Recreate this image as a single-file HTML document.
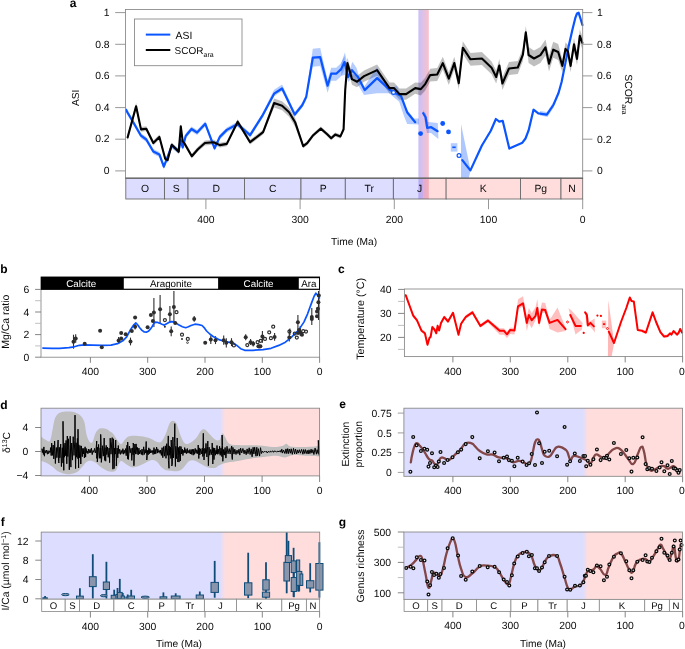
<!DOCTYPE html>
<html lang="en"><head><meta charset="utf-8"><title>Figure</title>
<style>html,body{margin:0;padding:0;background:#fff}svg{display:block}text{font-family:'Liberation Sans', Arial, Helvetica, sans-serif;text-rendering:geometricPrecision}</style>
</head><body>
<svg width="685" height="649" viewBox="0 0 685 649">
<defs>
<linearGradient id="bandg" x1="0" x2="1" y1="0" y2="0"><stop offset="0" stop-color="#7864f0" stop-opacity="0.4"/><stop offset="1" stop-color="#f06482" stop-opacity="0.4"/></linearGradient>
<linearGradient id="bgL" x1="0" x2="1" y1="0" y2="0"><stop offset="0" stop-color="#ddddff"/><stop offset="1" stop-color="#ffdddd"/></linearGradient>
</defs>
<rect x="0" y="0" width="685" height="649" fill="#ffffff"/>
<g id="panel-a">
<text x="69.8" y="6.7" font-size="12" text-anchor="start" font-weight="bold" fill="#000" >a</text>
<rect x="418.4" y="9.5" width="10.4" height="168.7" fill="url(#bandg)" stroke="none" stroke-width="0.85" />
<polygon points="127.6,134 128.2,131.7 136.1,102.8 141,127 146.3,126.3 153.3,140.6 159.4,134.5 165.2,156.4 167.6,157.8 171.7,142.4 178.7,149.4 180.8,124 182.7,138.9 184.8,141.5 191.8,153.8 197.9,146.8 204.9,140.6 213.7,139.8 219.8,142.7 226.8,141.5 237.7,119.3 250.1,139.8 263.1,129.8 274.1,98.6 282.1,101.3 289.1,107.7 295.1,117.7 303.2,144.2 307.2,141.2 313.2,133.2 320.8,126.6 327.2,132.2 331.2,136.2 335.2,132.6 340.4,134.4 343.6,127.2 345.2,88.1 347.4,57.5 352,73.5 357,76.1 364.1,70.5 377.1,64.5 389.5,82.5 394.1,82.5 399.5,88.5 406.1,88.5 415.2,82.5 420.8,82.7 425.2,77.7 430.2,68.7 437.2,68.1 442.8,56.7 448.8,72.2 454.3,56.7 458.8,76.8 462.8,41.3 470.5,52.9 481.9,52.1 491.6,61.4 496.2,70.6 499.3,59.1 502.4,77.1 509,62.1 517.8,61.1 522.9,48.3 525.8,25.9 528.6,47 534,50.5 540.4,47.1 545.5,39.4 549,55.6 553.2,41.7 558.2,44 562.4,59.5 565.5,42.5 567.8,44.8 570.6,59.5 574,37.9 577,52.5 579.8,29.4 582.4,36.4 582.4,49.2 579.8,42.2 577,65.3 574,50.7 570.6,72.3 567.8,57.6 565.5,55.3 562.4,72.3 558.2,60 553.2,57.7 549,71.6 545.5,55.4 540.4,63.1 534,66.5 528.6,63 525.8,38.7 522.9,61.1 517.8,73.9 509,74.9 502.4,89.9 499.3,71.9 496.2,83.4 491.6,74.2 481.9,64.9 470.5,65.7 462.8,54.1 458.8,89.6 454.3,69.5 448.8,85 442.8,69.5 437.2,80.9 430.2,81.5 425.2,90.5 420.8,95.5 415.2,93.7 406.1,99.7 399.5,99.7 394.1,93.7 389.5,93.7 377.1,75.7 364.1,81.7 357,87.3 352,84.7 347.4,68.7 345.2,92.1 343.6,131.2 340.4,138.4 335.2,136.6 331.2,140.2 327.2,136.2 320.8,130.6 313.2,137.2 307.2,145.2 303.2,148.2 295.1,126.7 289.1,116.7 282.1,110.3 274.1,107.6 263.1,134.6 250.1,144.6 237.7,124.1 226.8,146.3 219.8,147.5 213.7,144.6 204.9,145.4 197.9,151.6 191.8,158.6 184.8,146.3 182.7,143.7 180.8,128.8 178.7,154.2 171.7,147.2 167.6,162.6 165.2,161.2 159.4,139.3 153.3,145.4 146.3,131.1 141,131.8 136.1,109.8 128.2,138.7 127.6,141" fill="#000000" fill-opacity="0.25"/>
<polygon points="126.2,107.5 127.5,110 133.1,119.5 141,133.2 146.3,137 153.3,149 159.4,151.9 163.8,164.2 166.9,156.3 171.7,143.2 178.7,148.4 180.6,137.5 182.7,144.9 185.7,133.5 191.5,126.5 197.1,130 205.3,121.3 214.6,145.8 219.8,134.4 226.8,127.4 237.4,121.7 250.1,132.7 262.1,113.7 274.1,89.7 282.1,84.5 294.7,112.1 302.2,102.7 306.2,94.6 312.8,48.7 320.2,48.1 327.6,79.7 331.2,67.7 336.2,67.7 341.2,63.1 344.6,56.1 344.6,69.1 341.2,76.1 336.2,80.7 331.2,80.7 327.6,92.7 320.2,66.1 312.8,66.7 306.2,99.6 302.2,107.7 294.7,117.1 282.1,91 274.1,96.2 262.1,118.7 250.1,137.7 237.4,126.7 226.8,132.4 219.8,139.4 214.6,150.8 205.3,126.3 197.1,135 191.5,131.5 185.7,138.5 182.7,149.9 180.6,142.5 178.7,153.4 171.7,148.2 166.9,161.3 163.8,169.2 159.4,156.9 153.3,154 146.3,142 141,138.2 133.1,124.5 127.5,115 126.2,112.5" fill="#0a55ff" fill-opacity="0.3"/>
<polygon points="341.2,63 344.9,52.5 347.4,64.8 349.2,72.2 352.3,61.7 356.6,67.9 359.7,78.4 364,87 377,67.3 389.3,89.5 396.7,85.8 401.7,96.9 406.6,109.2 414,118.4 418.9,118.4 418.9,124.6 407.2,124 404.1,116.6 399.2,101.8 389.3,93.2 377,93.2 364,95 358.5,85.8 352.3,76.5 348.6,82.1 344.9,74.7 341.2,76" fill="#0a55ff" fill-opacity="0.3"/>
<polygon points="423,110 426,114 428,122 437.8,123 438.4,139 431,133 427,133 424.5,120" fill="#0a55ff" fill-opacity="0.3"/>
<rect x="450.8" y="143.2" width="6.6" height="8.4" fill="#0a55ff" stroke="none" stroke-width="0.85" fill-opacity="0.3"/>
<polygon points="461,124 470.6,170.4 468.6,178.2 461,178.2" fill="#0a55ff" fill-opacity="0.33"/>
<polygon points="540,111 547,112 553.5,102 554,107 547.5,117 540,115.5" fill="#0a55ff" fill-opacity="0.3"/>
<polyline points="126.2,110 127.5,112.5 133.1,122 141,135.7 146.3,139.5 153.3,151.5 159.4,154.4 163.8,166.7 166.9,158.8 171.7,145.7 178.7,150.9 180.6,140 182.7,147.4 185.7,136 191.5,129 197.1,132.5 205.3,123.8 214.6,148.3 219.8,136.9 226.8,129.9 237.4,124.2 250.1,135.2 262.1,116.2 274.1,93.7 282.1,88.5 294.7,114.6 302.2,105.2 306.2,97.1 312.8,57.7 320.2,57.1 327.6,85.7 331.2,73.7 336.2,73.7 341.2,69.1 344.6,62.1 348,77.1 352,70.1 358,77.1 364.7,90.1 377.1,78.1 390.1,90.1 401.1,96.1 407.1,112.2 415.2,122.2" fill="none" stroke="#0a55ff" stroke-width="2.2" stroke-linejoin="round" stroke-linecap="round" />
<polyline points="423.2,113.2 425.6,117.2 427.2,127.8 431.2,127.2 437.6,131.2" fill="none" stroke="#0a55ff" stroke-width="2.2" stroke-linejoin="round" stroke-linecap="round" />
<polyline points="462.3,160.1 470.4,170.4 481.9,145.5 490.8,130.8 495.9,119 499.3,121.6 502.7,120.8 509.3,148.6 522.4,142.7 525.5,138.5 528.6,130.4 533.5,109.7 538.3,113.4 546.8,114.6 553.4,105 558.6,92.8 561.6,82 564.7,66.6 568.6,46.6 572.4,29.7 575.5,17.3 577,13.5 578.6,12.7 580.1,17.3 582.4,25" fill="none" stroke="#0a55ff" stroke-width="2.2" stroke-linejoin="round" stroke-linecap="round" />
<line x1="452.3" y1="147.3" x2="455.7" y2="147.3" stroke="#0a55ff" stroke-width="1.6"/>
<circle cx="420.6" cy="133.6" r="2.4" fill="#0a55ff" stroke="none" stroke-width="1"/>
<circle cx="442.7" cy="123.5" r="2.4" fill="#0a55ff" stroke="none" stroke-width="1"/>
<circle cx="448.5" cy="131.9" r="2.4" fill="#0a55ff" stroke="none" stroke-width="1"/>
<circle cx="393.5" cy="92.5" r="1.9" fill="#ffffff" stroke="#0a55ff" stroke-width="1.2"/>
<circle cx="459" cy="155.5" r="1.9" fill="#ffffff" stroke="#0a55ff" stroke-width="1.2"/>
<polyline points="127.6,137.5 128.2,135.2 136.1,106.3 141,129.4 146.3,128.7 153.3,143 159.4,136.9 165.2,158.8 167.6,160.2 171.7,144.8 178.7,151.8 180.8,126.4 182.7,141.3 184.8,143.9 191.8,156.2 197.9,149.2 204.9,143 213.7,142.2 219.8,145.1 226.8,143.9 237.7,121.7 250.1,142.2 263.1,132.2 274.1,103.1 282.1,105.8 289.1,112.2 295.1,122.2 303.2,146.2 307.2,143.2 313.2,135.2 320.8,128.6 327.2,134.2 331.2,138.2 335.2,134.6 340.4,136.4 343.6,129.2 345.2,90.1 347.4,63.1 352,79.1 357,81.7 364.1,76.1 377.1,70.1 389.5,88.1 394.1,88.1 399.5,94.1 406.1,94.1 415.2,88.1 420.8,89.1 425.2,84.1 430.2,75.1 437.2,74.5 442.8,63.1 448.8,78.6 454.3,63.1 458.8,83.2 462.8,47.7 470.5,59.3 481.9,58.5 491.6,67.8 496.2,77 499.3,65.5 502.4,83.5 509,68.5 517.8,67.5 522.9,54.7 525.8,32.3 528.6,55 534,58.5 540.4,55.1 545.5,47.4 549,63.6 553.2,49.7 558.2,52 562.4,65.9 565.5,48.9 567.8,51.2 570.6,65.9 574,44.3 577,58.9 579.8,35.8 582.4,42.8" fill="none" stroke="#000000" stroke-width="2.1" stroke-linejoin="round" stroke-linecap="round" />
<rect x="125.5" y="9.5" width="457.2" height="168.7" fill="none" stroke="#858585" stroke-width="0.85" />
<line x1="115.2" y1="170.9" x2="125.5" y2="170.9" stroke="#858585" stroke-width="0.85"/>
<line x1="582.7" y1="170.9" x2="592.4" y2="170.9" stroke="#858585" stroke-width="0.85"/>
<text x="109.6" y="174.1" font-size="10.4" text-anchor="end" font-weight="normal" fill="#0a0a0a" >0</text>
<text x="597" y="174.4" font-size="10.4" text-anchor="start" font-weight="normal" fill="#0a0a0a" >0</text>
<line x1="115.2" y1="139.2" x2="125.5" y2="139.2" stroke="#858585" stroke-width="0.85"/>
<line x1="582.7" y1="139.2" x2="592.4" y2="139.2" stroke="#858585" stroke-width="0.85"/>
<text x="109.6" y="142.4" font-size="10.4" text-anchor="end" font-weight="normal" fill="#0a0a0a" >0.2</text>
<text x="597" y="142.7" font-size="10.4" text-anchor="start" font-weight="normal" fill="#0a0a0a" >0.2</text>
<line x1="115.2" y1="107.6" x2="125.5" y2="107.6" stroke="#858585" stroke-width="0.85"/>
<line x1="582.7" y1="107.6" x2="592.4" y2="107.6" stroke="#858585" stroke-width="0.85"/>
<text x="109.6" y="110.8" font-size="10.4" text-anchor="end" font-weight="normal" fill="#0a0a0a" >0.4</text>
<text x="597" y="111.1" font-size="10.4" text-anchor="start" font-weight="normal" fill="#0a0a0a" >0.4</text>
<line x1="115.2" y1="75.9" x2="125.5" y2="75.9" stroke="#858585" stroke-width="0.85"/>
<line x1="582.7" y1="75.9" x2="592.4" y2="75.9" stroke="#858585" stroke-width="0.85"/>
<text x="109.6" y="79.1" font-size="10.4" text-anchor="end" font-weight="normal" fill="#0a0a0a" >0.6</text>
<text x="597" y="79.4" font-size="10.4" text-anchor="start" font-weight="normal" fill="#0a0a0a" >0.6</text>
<line x1="115.2" y1="44.3" x2="125.5" y2="44.3" stroke="#858585" stroke-width="0.85"/>
<line x1="582.7" y1="44.3" x2="592.4" y2="44.3" stroke="#858585" stroke-width="0.85"/>
<text x="109.6" y="47.5" font-size="10.4" text-anchor="end" font-weight="normal" fill="#0a0a0a" >0.8</text>
<text x="597" y="47.8" font-size="10.4" text-anchor="start" font-weight="normal" fill="#0a0a0a" >0.8</text>
<line x1="115.2" y1="12.6" x2="125.5" y2="12.6" stroke="#858585" stroke-width="0.85"/>
<line x1="582.7" y1="12.6" x2="592.4" y2="12.6" stroke="#858585" stroke-width="0.85"/>
<text x="109.6" y="15.8" font-size="10.4" text-anchor="end" font-weight="normal" fill="#0a0a0a" >1</text>
<text x="597" y="16.1" font-size="10.4" text-anchor="start" font-weight="normal" fill="#0a0a0a" >1</text>
<text x="79.1" y="97.8" font-size="10.2" text-anchor="middle" font-weight="normal" fill="#0a0a0a" transform="rotate(-90 79.1 97.8)" >ASI</text>
<text x="625.3" y="74.2" font-size="10.4" text-anchor="start" fill="#0a0a0a" transform="rotate(90 625.3 74.2)">SCOR<tspan font-size="7.2" dy="2.9">ara</tspan></text>
<rect x="134.5" y="19" width="107.5" height="46.7" fill="#ffffff" stroke="#858585" stroke-width="0.85" />
<line x1="145.8" y1="34.6" x2="170.3" y2="34.6" stroke="#0a55ff" stroke-width="2"/>
<line x1="145.8" y1="50" x2="170.3" y2="50" stroke="#000000" stroke-width="2"/>
<text x="175.6" y="39.2" font-size="10.4" text-anchor="start" font-weight="normal" fill="#0a0a0a" >ASI</text>
<text x="174.6" y="53.5" font-size="10" text-anchor="start" fill="#0a0a0a">SCOR<tspan font-size="7" dy="3.2">ara</tspan></text>
<rect x="125.8" y="178.2" width="38.6" height="20.8" fill="#ddddff" stroke="#666666" stroke-width="0.85" />
<text x="145.1" y="192.3" font-size="10.4" text-anchor="middle" font-weight="normal" fill="#0a0a0a" >O</text>
<rect x="164.5" y="178.2" width="23.6" height="20.8" fill="#ddddff" stroke="#666666" stroke-width="0.85" />
<text x="176.2" y="192.3" font-size="10.4" text-anchor="middle" font-weight="normal" fill="#0a0a0a" >S</text>
<rect x="188" y="178.2" width="56.5" height="20.8" fill="#ddddff" stroke="#666666" stroke-width="0.85" />
<text x="216.3" y="192.3" font-size="10.4" text-anchor="middle" font-weight="normal" fill="#0a0a0a" >D</text>
<rect x="244.5" y="178.2" width="56.5" height="20.8" fill="#ddddff" stroke="#666666" stroke-width="0.85" />
<text x="272.8" y="192.3" font-size="10.4" text-anchor="middle" font-weight="normal" fill="#0a0a0a" >C</text>
<rect x="301" y="178.2" width="44.3" height="20.8" fill="#ddddff" stroke="#666666" stroke-width="0.85" />
<text x="323.2" y="192.3" font-size="10.4" text-anchor="middle" font-weight="normal" fill="#0a0a0a" >P</text>
<rect x="345.3" y="178.2" width="48" height="20.8" fill="#ddddff" stroke="#666666" stroke-width="0.85" />
<text x="369.3" y="192.3" font-size="10.4" text-anchor="middle" font-weight="normal" fill="#0a0a0a" >Tr</text>
<rect x="393.4" y="178.2" width="30.2" height="20.8" fill="#ddddff" stroke="none" stroke-width="0.85" />
<rect x="423.6" y="178.2" width="22.5" height="20.8" fill="#ffdddd" stroke="none" stroke-width="0.85" />
<rect x="418.4" y="178.2" width="10.4" height="20.8" fill="url(#bandg)" stroke="none" stroke-width="0.85" />
<rect x="393.4" y="178.2" width="52.8" height="20.8" fill="none" stroke="#666666" stroke-width="0.85" />
<text x="419.7" y="192.3" font-size="10.4" text-anchor="middle" font-weight="normal" fill="#0a0a0a" >J</text>
<rect x="446.1" y="178.2" width="74.4" height="20.8" fill="#ffdddd" stroke="#666666" stroke-width="0.85" />
<text x="483.3" y="192.3" font-size="10.4" text-anchor="middle" font-weight="normal" fill="#0a0a0a" >K</text>
<rect x="520.5" y="178.2" width="40.5" height="20.8" fill="#ffdddd" stroke="#666666" stroke-width="0.85" />
<text x="540.8" y="192.3" font-size="10.4" text-anchor="middle" font-weight="normal" fill="#0a0a0a" >Pg</text>
<rect x="561" y="178.2" width="21.7" height="20.8" fill="#ffdddd" stroke="#666666" stroke-width="0.85" />
<text x="571.9" y="192.3" font-size="10.4" text-anchor="middle" font-weight="normal" fill="#0a0a0a" >N</text>
<line x1="125.5" y1="178.2" x2="582.7" y2="178.2" stroke="#5a5a5a" stroke-width="0.9"/>
<line x1="205.9" y1="199" x2="205.9" y2="209.2" stroke="#858585" stroke-width="0.85"/>
<text x="205.9" y="223.1" font-size="10.4" text-anchor="middle" font-weight="normal" fill="#0a0a0a" >400</text>
<line x1="300.1" y1="199" x2="300.1" y2="209.2" stroke="#858585" stroke-width="0.85"/>
<text x="300.1" y="223.1" font-size="10.4" text-anchor="middle" font-weight="normal" fill="#0a0a0a" >300</text>
<line x1="394.3" y1="199" x2="394.3" y2="209.2" stroke="#858585" stroke-width="0.85"/>
<text x="394.3" y="223.1" font-size="10.4" text-anchor="middle" font-weight="normal" fill="#0a0a0a" >200</text>
<line x1="488.5" y1="199" x2="488.5" y2="209.2" stroke="#858585" stroke-width="0.85"/>
<text x="488.5" y="223.1" font-size="10.4" text-anchor="middle" font-weight="normal" fill="#0a0a0a" >100</text>
<line x1="582.7" y1="199" x2="582.7" y2="209.2" stroke="#858585" stroke-width="0.85"/>
<text x="582.7" y="223.1" font-size="10.4" text-anchor="middle" font-weight="normal" fill="#0a0a0a" >0</text>
<text x="354.1" y="244.6" font-size="10.2" text-anchor="middle" font-weight="normal" fill="#0a0a0a" >Time (Ma)</text>
</g>
<g id="panel-b">
<text x="0.3" y="273.1" font-size="12" text-anchor="start" font-weight="bold" fill="#000" >b</text>
<rect x="41" y="277" width="278.6" height="80.2" fill="none" stroke="#858585" stroke-width="0.85" />
<rect x="40.8" y="276.7" width="279.2" height="13.2" fill="#000000" stroke="none" stroke-width="0.85" />
<rect x="123.8" y="278.2" width="94.3" height="10.5" fill="#ffffff" stroke="none" stroke-width="0.85" />
<rect x="298.8" y="278.2" width="20.2" height="10.5" fill="#ffffff" stroke="none" stroke-width="0.85" />
<text x="81.2" y="286.6" font-size="9.8" text-anchor="middle" font-weight="normal" fill="#ffffff" >Calcite</text>
<text x="170.9" y="286.6" font-size="9.8" text-anchor="middle" font-weight="normal" fill="#000000" >Aragonite</text>
<text x="258.6" y="286.6" font-size="9.8" text-anchor="middle" font-weight="normal" fill="#ffffff" >Calcite</text>
<text x="308.9" y="286.6" font-size="9.8" text-anchor="middle" font-weight="normal" fill="#000000" >Ara</text>
<line x1="73.5" y1="334.7" x2="73.5" y2="348.7" stroke="#2e2e2e" stroke-width="1.1"/>
<line x1="75.7" y1="334.3" x2="75.7" y2="342.8" stroke="#2e2e2e" stroke-width="1.1"/>
<line x1="118.6" y1="336.9" x2="118.6" y2="344.1" stroke="#2e2e2e" stroke-width="1.1"/>
<line x1="130.5" y1="337.6" x2="130.5" y2="345.4" stroke="#2e2e2e" stroke-width="1.1"/>
<line x1="135.1" y1="324" x2="135.1" y2="329.5" stroke="#2e2e2e" stroke-width="1.1"/>
<line x1="153.9" y1="298.1" x2="153.9" y2="327" stroke="#2e2e2e" stroke-width="1.1"/>
<line x1="160.1" y1="294.9" x2="160.1" y2="323.1" stroke="#2e2e2e" stroke-width="1.1"/>
<line x1="169.9" y1="306" x2="169.9" y2="323.1" stroke="#2e2e2e" stroke-width="1.1"/>
<line x1="171.2" y1="326.4" x2="171.2" y2="336.2" stroke="#2e2e2e" stroke-width="1.1"/>
<line x1="173.9" y1="290.9" x2="173.9" y2="323.1" stroke="#2e2e2e" stroke-width="1.1"/>
<line x1="194.2" y1="316" x2="194.2" y2="321.8" stroke="#2e2e2e" stroke-width="1.1"/>
<line x1="210.8" y1="335.5" x2="210.8" y2="344.1" stroke="#2e2e2e" stroke-width="1.1"/>
<line x1="215.5" y1="336.2" x2="215.5" y2="344.1" stroke="#2e2e2e" stroke-width="1.1"/>
<line x1="223.7" y1="335.5" x2="223.7" y2="344.8" stroke="#2e2e2e" stroke-width="1.1"/>
<line x1="226.3" y1="338.2" x2="226.3" y2="347.4" stroke="#2e2e2e" stroke-width="1.1"/>
<line x1="231.5" y1="338.2" x2="231.5" y2="346.1" stroke="#2e2e2e" stroke-width="1.1"/>
<line x1="245.7" y1="334.3" x2="245.7" y2="340.2" stroke="#2e2e2e" stroke-width="1.1"/>
<line x1="262.4" y1="331" x2="262.4" y2="342.8" stroke="#2e2e2e" stroke-width="1.1"/>
<line x1="274.6" y1="332.9" x2="274.6" y2="340.8" stroke="#2e2e2e" stroke-width="1.1"/>
<line x1="289.3" y1="328.9" x2="289.3" y2="341.6" stroke="#2e2e2e" stroke-width="1.1"/>
<line x1="297.9" y1="315.1" x2="297.9" y2="333.6" stroke="#2e2e2e" stroke-width="1.1"/>
<line x1="311.8" y1="308.1" x2="311.8" y2="324.9" stroke="#2e2e2e" stroke-width="1.1"/>
<line x1="318.5" y1="291" x2="318.5" y2="320" stroke="#2e2e2e" stroke-width="1.1"/>
<line x1="250.6" y1="339" x2="250.6" y2="345" stroke="#2e2e2e" stroke-width="1.1"/>
<line x1="253.2" y1="341" x2="253.2" y2="346.5" stroke="#2e2e2e" stroke-width="1.1"/>
<line x1="289.9" y1="328.5" x2="289.9" y2="335" stroke="#2e2e2e" stroke-width="1.1"/>
<line x1="300.3" y1="326" x2="300.3" y2="336" stroke="#2e2e2e" stroke-width="1.1"/>
<polyline points="42.9,348.1 52,348.3 59.7,348.3 68.9,347.7 74.2,346.8 79.4,345.3 84.7,344.8 92.6,345.1 101.8,345.4 111,345.1 117.5,343.7 122.8,340.8 126.7,336.9 130.5,329.7 133.5,325.2 134.9,323.8 135.8,323 136.7,323.8 137.8,325 139.7,327.7 142,330.4 144.3,332 146.3,332.2 148.3,331.3 150.3,329.2 152.2,326.4 153.8,323.6 155.2,322.1 157.2,322.3 159.4,323.1 162,324.3 164.4,325.1 167,323.6 169.3,322.2 171.6,321.7 173.9,321.8 176.4,323.3 179.1,325.1 182.4,326.7 185.7,327.7 188.4,326.8 191,325.5 194.9,324.2 198.6,324.6 202.1,325.5 204.6,328.2 206.6,331 209.8,334 213.1,336.5 219.7,339.9 226.3,341.8 232.9,342.8 236.8,345.4 240.7,348.7 244.7,350.3 252.6,350.3 263.1,349.7 271,348.3 278.8,345.4 285.4,342.2 291,337.6 298.4,330.4 303.9,322.1 307.6,313.8 311.3,303.6 314.1,296.2 315.9,293.2 317.8,295.3 319.4,298" fill="none" stroke="#0a55ff" stroke-width="1.7" stroke-linejoin="round" stroke-linecap="round" />
<circle cx="73.5" cy="341.8" r="2" fill="#2e2e2e" stroke="none" stroke-width="1"/>
<circle cx="75.7" cy="338.6" r="2" fill="#2e2e2e" stroke="none" stroke-width="1"/>
<circle cx="84.7" cy="343.7" r="2" fill="#2e2e2e" stroke="none" stroke-width="1"/>
<circle cx="100.1" cy="330.7" r="2" fill="#2e2e2e" stroke="none" stroke-width="1"/>
<circle cx="101.8" cy="347.3" r="2" fill="#2e2e2e" stroke="none" stroke-width="1"/>
<circle cx="118.6" cy="340.5" r="2" fill="#2e2e2e" stroke="none" stroke-width="1"/>
<circle cx="121.2" cy="338.6" r="2" fill="#2e2e2e" stroke="none" stroke-width="1"/>
<circle cx="121.2" cy="333" r="2" fill="#2e2e2e" stroke="none" stroke-width="1"/>
<circle cx="125.7" cy="334.3" r="2" fill="#2e2e2e" stroke="none" stroke-width="1"/>
<circle cx="130.5" cy="341.5" r="2" fill="#2e2e2e" stroke="none" stroke-width="1"/>
<circle cx="131.8" cy="331" r="2" fill="#2e2e2e" stroke="none" stroke-width="1"/>
<circle cx="135.1" cy="317.6" r="2" fill="#2e2e2e" stroke="none" stroke-width="1"/>
<circle cx="135.1" cy="326.8" r="2" fill="#2e2e2e" stroke="none" stroke-width="1"/>
<circle cx="147.6" cy="327.3" r="2" fill="#2e2e2e" stroke="none" stroke-width="1"/>
<circle cx="150.9" cy="315" r="2" fill="#2e2e2e" stroke="none" stroke-width="1"/>
<circle cx="153.9" cy="312.6" r="2" fill="#2e2e2e" stroke="none" stroke-width="1"/>
<circle cx="152.9" cy="321.1" r="2" fill="#2e2e2e" stroke="none" stroke-width="1"/>
<circle cx="160.1" cy="309.3" r="2" fill="#2e2e2e" stroke="none" stroke-width="1"/>
<circle cx="169.9" cy="314.2" r="2" fill="#2e2e2e" stroke="none" stroke-width="1"/>
<circle cx="171.2" cy="331.3" r="2" fill="#2e2e2e" stroke="none" stroke-width="1"/>
<circle cx="173.9" cy="307.1" r="2" fill="#2e2e2e" stroke="none" stroke-width="1"/>
<circle cx="175.2" cy="323.1" r="2" fill="#2e2e2e" stroke="none" stroke-width="1"/>
<circle cx="194.2" cy="318.9" r="2" fill="#2e2e2e" stroke="none" stroke-width="1"/>
<circle cx="205.2" cy="342.8" r="2" fill="#2e2e2e" stroke="none" stroke-width="1"/>
<circle cx="210.8" cy="339.5" r="2" fill="#2e2e2e" stroke="none" stroke-width="1"/>
<circle cx="215.5" cy="340.2" r="2" fill="#2e2e2e" stroke="none" stroke-width="1"/>
<circle cx="223.7" cy="340.2" r="2" fill="#2e2e2e" stroke="none" stroke-width="1"/>
<circle cx="226.3" cy="342.8" r="2" fill="#2e2e2e" stroke="none" stroke-width="1"/>
<circle cx="231.5" cy="342.2" r="2" fill="#2e2e2e" stroke="none" stroke-width="1"/>
<circle cx="245.7" cy="337.2" r="2" fill="#2e2e2e" stroke="none" stroke-width="1"/>
<circle cx="250.6" cy="342.2" r="2" fill="#2e2e2e" stroke="none" stroke-width="1"/>
<circle cx="253.2" cy="343.7" r="2" fill="#2e2e2e" stroke="none" stroke-width="1"/>
<circle cx="259.4" cy="346.5" r="2" fill="#2e2e2e" stroke="none" stroke-width="1"/>
<circle cx="258.4" cy="346.2" r="2" fill="#2e2e2e" stroke="none" stroke-width="1"/>
<circle cx="260.4" cy="346.2" r="2" fill="#2e2e2e" stroke="none" stroke-width="1"/>
<circle cx="262.4" cy="336.5" r="2" fill="#2e2e2e" stroke="none" stroke-width="1"/>
<circle cx="274.6" cy="336.9" r="2" fill="#2e2e2e" stroke="none" stroke-width="1"/>
<circle cx="289.3" cy="337.6" r="2" fill="#2e2e2e" stroke="none" stroke-width="1"/>
<circle cx="297.9" cy="322.2" r="2" fill="#2e2e2e" stroke="none" stroke-width="1"/>
<circle cx="299.1" cy="330.1" r="2" fill="#2e2e2e" stroke="none" stroke-width="1"/>
<circle cx="300.3" cy="332.4" r="2" fill="#2e2e2e" stroke="none" stroke-width="1"/>
<circle cx="302" cy="334.7" r="2" fill="#2e2e2e" stroke="none" stroke-width="1"/>
<circle cx="298.2" cy="333" r="2" fill="#2e2e2e" stroke="none" stroke-width="1"/>
<circle cx="311.8" cy="317" r="2" fill="#2e2e2e" stroke="none" stroke-width="1"/>
<circle cx="311.8" cy="319" r="2" fill="#2e2e2e" stroke="none" stroke-width="1"/>
<circle cx="317" cy="316.2" r="2" fill="#2e2e2e" stroke="none" stroke-width="1"/>
<circle cx="317" cy="311.6" r="2" fill="#2e2e2e" stroke="none" stroke-width="1"/>
<circle cx="317.9" cy="308.7" r="2" fill="#2e2e2e" stroke="none" stroke-width="1"/>
<circle cx="318.4" cy="302.3" r="2" fill="#2e2e2e" stroke="none" stroke-width="1"/>
<circle cx="318.8" cy="295.4" r="2" fill="#2e2e2e" stroke="none" stroke-width="1"/>
<circle cx="164.9" cy="326.8" r="1" fill="#2e2e2e" stroke="none" stroke-width="1"/>
<circle cx="182" cy="339.1" r="1" fill="#2e2e2e" stroke="none" stroke-width="1"/>
<circle cx="164.9" cy="320.1" r="1.5" fill="none" stroke="#2e2e2e" stroke-width="1.2"/>
<circle cx="176.5" cy="312.2" r="1.5" fill="none" stroke="#2e2e2e" stroke-width="1.2"/>
<circle cx="182" cy="334.7" r="1.5" fill="none" stroke="#2e2e2e" stroke-width="1.2"/>
<circle cx="187.8" cy="338.9" r="1.5" fill="none" stroke="#2e2e2e" stroke-width="1.2"/>
<circle cx="233.9" cy="345.4" r="1.5" fill="none" stroke="#2e2e2e" stroke-width="1.2"/>
<circle cx="247.3" cy="345.1" r="1.5" fill="none" stroke="#2e2e2e" stroke-width="1.2"/>
<circle cx="257.6" cy="342.2" r="1.5" fill="none" stroke="#2e2e2e" stroke-width="1.2"/>
<circle cx="260.7" cy="340.8" r="1.5" fill="none" stroke="#2e2e2e" stroke-width="1.2"/>
<circle cx="265" cy="338.9" r="1.5" fill="none" stroke="#2e2e2e" stroke-width="1.2"/>
<circle cx="269.2" cy="332.3" r="1.5" fill="none" stroke="#2e2e2e" stroke-width="1.2"/>
<circle cx="270.9" cy="338.2" r="1.5" fill="none" stroke="#2e2e2e" stroke-width="1.2"/>
<circle cx="273.2" cy="326.7" r="1.5" fill="none" stroke="#2e2e2e" stroke-width="1.2"/>
<circle cx="289.4" cy="331.6" r="1.5" fill="none" stroke="#2e2e2e" stroke-width="1.2"/>
<circle cx="294.8" cy="333.6" r="1.5" fill="none" stroke="#2e2e2e" stroke-width="1.2"/>
<circle cx="296.8" cy="337.6" r="1.5" fill="none" stroke="#2e2e2e" stroke-width="1.2"/>
<circle cx="303.2" cy="331.2" r="1.5" fill="none" stroke="#2e2e2e" stroke-width="1.2"/>
<circle cx="306" cy="331.6" r="1.5" fill="none" stroke="#2e2e2e" stroke-width="1.2"/>
<circle cx="187.5" cy="342.6" r="0.9" fill="none" stroke="#2e2e2e" stroke-width="0.8"/>
<line x1="35.1" y1="357.2" x2="41" y2="357.2" stroke="#707070" stroke-width="0.85"/>
<text x="29.2" y="360.9" font-size="10.4" text-anchor="end" font-weight="normal" fill="#0a0a0a" >0</text>
<line x1="35.1" y1="334.6" x2="41" y2="334.6" stroke="#707070" stroke-width="0.85"/>
<text x="29.2" y="338.3" font-size="10.4" text-anchor="end" font-weight="normal" fill="#0a0a0a" >2</text>
<line x1="35.1" y1="312" x2="41" y2="312" stroke="#707070" stroke-width="0.85"/>
<text x="29.2" y="315.7" font-size="10.4" text-anchor="end" font-weight="normal" fill="#0a0a0a" >4</text>
<line x1="35.1" y1="289.4" x2="41" y2="289.4" stroke="#707070" stroke-width="0.85"/>
<text x="29.2" y="293.1" font-size="10.4" text-anchor="end" font-weight="normal" fill="#0a0a0a" >6</text>
<line x1="35.1" y1="345.9" x2="41" y2="345.9" stroke="#b5b5b5" stroke-width="0.85"/>
<line x1="35.1" y1="323.3" x2="41" y2="323.3" stroke="#b5b5b5" stroke-width="0.85"/>
<line x1="35.1" y1="300.7" x2="41" y2="300.7" stroke="#b5b5b5" stroke-width="0.85"/>
<text x="9.3" y="321.7" font-size="10.5" text-anchor="middle" font-weight="normal" fill="#0a0a0a" transform="rotate(-90 9.3 321.7)" >Mg/Ca ratio</text>
<line x1="90.4" y1="357.2" x2="90.4" y2="362.8" stroke="#707070" stroke-width="0.85"/>
<text x="90.4" y="375.1" font-size="10.4" text-anchor="middle" font-weight="normal" fill="#0a0a0a" >400</text>
<line x1="147.7" y1="357.2" x2="147.7" y2="362.8" stroke="#707070" stroke-width="0.85"/>
<text x="147.7" y="375.1" font-size="10.4" text-anchor="middle" font-weight="normal" fill="#0a0a0a" >300</text>
<line x1="205" y1="357.2" x2="205" y2="362.8" stroke="#707070" stroke-width="0.85"/>
<text x="205" y="375.1" font-size="10.4" text-anchor="middle" font-weight="normal" fill="#0a0a0a" >200</text>
<line x1="262.3" y1="357.2" x2="262.3" y2="362.8" stroke="#707070" stroke-width="0.85"/>
<text x="262.3" y="375.1" font-size="10.4" text-anchor="middle" font-weight="normal" fill="#0a0a0a" >100</text>
<line x1="319.6" y1="357.2" x2="319.6" y2="362.8" stroke="#707070" stroke-width="0.85"/>
<text x="319.6" y="375.1" font-size="10.4" text-anchor="middle" font-weight="normal" fill="#0a0a0a" >0</text>
</g>
<g id="panel-c">
<text x="338" y="273.1" font-size="12" text-anchor="start" font-weight="bold" fill="#000" >c</text>
<polygon points="405.8,293.5 409.5,303.7 413.2,313.8 416.9,318.4 421.6,329 424.9,331.4 427.5,343 429.5,336 430.6,335.2 432.3,325.3 434.5,327.7 436.3,331.4 437.6,324 439.1,328.6 441,321.2 444.3,315.3 448,319.7 453,311 458.5,333 461.1,322 465.9,315 472.5,310.6 480.4,324.1 487.9,318.8 499.7,328.3 504,328.3 507,331.8 510.2,327.4 514.5,327.9 518,299.3 523,296.3 526.8,315.9 528.9,308 531.7,313.3 535.6,306.9 537.3,299 539.1,313.9 542,302.4 545.2,303.1 549.6,319.9 557.5,307.4 565.5,327.4 565.5,331 557.5,332.4 549.6,328.9 545.2,313.1 542,312.4 539.1,326.9 537.3,312 535.6,319.9 531.7,328.3 528.9,323 526.8,330.9 523,306.3 518,309.3 514.5,334.4 510.2,333.9 507,338.3 504,334.8 499.7,334.8 487.9,322.4 480.4,327.7 472.5,314.2 465.9,318.6 461.1,325.6 458.5,336.6 453,314.6 448,323.3 444.3,318.9 441,324.8 439.1,332.2 437.6,327.6 436.3,335 434.5,331.3 432.3,328.9 430.6,338.8 429.5,339.6 427.5,346.6 424.9,335 421.6,332.6 416.9,322 413.2,317.4 409.5,307.3 405.8,297.1" fill="#ff0000" fill-opacity="0.25"/>
<polygon points="568.4,308 571.5,310.5 582.6,323 582,329.5 575.5,334.5" fill="#ff0000" fill-opacity="0.25"/>
<polygon points="584.6,311 587.5,313 589,322 594.6,318.5 595,332.5 590,326.5 587,327" fill="#ff0000" fill-opacity="0.25"/>
<rect x="601.8" y="320.6" width="4.4" height="7.6" fill="#ff0000" stroke="none" stroke-width="0.85" fill-opacity="0.25"/>
<polygon points="608.3,300 614.2,343 611.6,356.6 607.9,356.6" fill="#ff0000" fill-opacity="0.28"/>
<polygon points="642.1,329.2 645.9,330.9 652.6,310.8 656.1,320.4 660.4,330.6 663.9,334.8 667.5,334.4 670.1,331.8 671.5,333 673.6,329.5 677.1,333 678.8,330.9 680.1,327.4 682,330.9 682,334.1 680.1,330.6 678.8,334.1 677.1,336.2 673.6,332.7 671.5,336.2 670.1,335 667.5,337.6 663.9,338 660.4,333.8 656.1,323.6 652.6,314 645.9,334.1 642.1,332.4" fill="#ff0000" fill-opacity="0.25"/>
<polyline points="405.8,295.3 409.5,305.5 413.2,315.6 416.9,320.2 421.6,330.8 424.9,333.2 427.5,344.8 429.5,337.8 430.6,337 432.3,327.1 434.5,329.5 436.3,333.2 437.6,325.8 439.1,330.4 441,323 444.3,317.1 448,321.5 453,312.8 458.5,334.8 461.1,323.8 465.9,316.8 472.5,312.4 480.4,325.9 487.9,320.6 499.7,330.8 504,330.8 507,334.3 510.2,329.9 514.5,330.4 518,306.3 523,303.3 526.8,322.9 528.9,315 531.7,320.3 535.6,315.9 537.3,308 539.1,322.9 542,309.4 545.2,310.1 549.6,322.9 557.5,319.9 565.5,329.2" fill="none" stroke="#ff0000" stroke-width="2" stroke-linejoin="round" stroke-linecap="round" />
<polyline points="570.3,315 575.5,325.9 580.8,325.9" fill="none" stroke="#ff0000" stroke-width="2" stroke-linejoin="round" stroke-linecap="round" />
<polyline points="585.1,312.4 586.9,315 587.8,325.2 590.4,322.9 593.9,326.4" fill="none" stroke="#ff0000" stroke-width="2" stroke-linejoin="round" stroke-linecap="round" />
<polyline points="608.8,331.7 614,343 621,322 626.3,308 629.8,297.5 631.5,301 633.8,301.4 637.7,329.9 642.1,330.8 645.9,332.5 652.6,312.4 656.1,322 660.4,332.2 663.9,336.4 667.5,336 670.1,333.4 671.5,334.6 673.6,331.1 677.1,334.6 678.8,332.5 680.1,329 682,332.5" fill="none" stroke="#ff0000" stroke-width="2" stroke-linejoin="round" stroke-linecap="round" />
<line x1="602.9" y1="324.1" x2="605.2" y2="324.1" stroke="#ff0000" stroke-width="1.6"/>
<circle cx="583.7" cy="332.9" r="1.1" fill="#ff0000" stroke="none" stroke-width="1"/>
<circle cx="597.4" cy="315.6" r="1.1" fill="#ff0000" stroke="none" stroke-width="1"/>
<circle cx="600.9" cy="315.9" r="1.1" fill="#ff0000" stroke="none" stroke-width="1"/>
<circle cx="567.5" cy="322" r="1" fill="#ffffff" stroke="#ff0000" stroke-width="0.9"/>
<circle cx="607.4" cy="328.5" r="1" fill="#ffffff" stroke="#ff0000" stroke-width="0.9"/>
<rect x="404.4" y="289" width="278.2" height="67.6" fill="none" stroke="#858585" stroke-width="0.85" />
<line x1="398.1" y1="337.4" x2="404.4" y2="337.4" stroke="#707070" stroke-width="0.85"/>
<text x="391.6" y="341.1" font-size="10.4" text-anchor="end" font-weight="normal" fill="#0a0a0a" >20</text>
<line x1="398.1" y1="313.4" x2="404.4" y2="313.4" stroke="#707070" stroke-width="0.85"/>
<text x="391.6" y="317.1" font-size="10.4" text-anchor="end" font-weight="normal" fill="#0a0a0a" >30</text>
<line x1="398.1" y1="289.4" x2="404.4" y2="289.4" stroke="#707070" stroke-width="0.85"/>
<text x="391.6" y="293.1" font-size="10.4" text-anchor="end" font-weight="normal" fill="#0a0a0a" >40</text>
<line x1="398.1" y1="349.4" x2="404.4" y2="349.4" stroke="#b5b5b5" stroke-width="0.85"/>
<line x1="398.1" y1="325.4" x2="404.4" y2="325.4" stroke="#b5b5b5" stroke-width="0.85"/>
<line x1="398.1" y1="301.4" x2="404.4" y2="301.4" stroke="#b5b5b5" stroke-width="0.85"/>
<text x="363.6" y="318.9" font-size="10.65" text-anchor="middle" font-weight="normal" fill="#0a0a0a" transform="rotate(-90 363.6 318.9)" >Temperature (°C)</text>
<line x1="452.9" y1="356.6" x2="452.9" y2="362.4" stroke="#707070" stroke-width="0.85"/>
<text x="452.9" y="375" font-size="10.4" text-anchor="middle" font-weight="normal" fill="#0a0a0a" >400</text>
<line x1="510.3" y1="356.6" x2="510.3" y2="362.4" stroke="#707070" stroke-width="0.85"/>
<text x="510.3" y="375" font-size="10.4" text-anchor="middle" font-weight="normal" fill="#0a0a0a" >300</text>
<line x1="567.8" y1="356.6" x2="567.8" y2="362.4" stroke="#707070" stroke-width="0.85"/>
<text x="567.8" y="375" font-size="10.4" text-anchor="middle" font-weight="normal" fill="#0a0a0a" >200</text>
<line x1="625.2" y1="356.6" x2="625.2" y2="362.4" stroke="#707070" stroke-width="0.85"/>
<text x="625.2" y="375" font-size="10.4" text-anchor="middle" font-weight="normal" fill="#0a0a0a" >100</text>
<line x1="682.6" y1="356.6" x2="682.6" y2="362.4" stroke="#707070" stroke-width="0.85"/>
<text x="682" y="375" font-size="10.4" text-anchor="middle" font-weight="normal" fill="#0a0a0a" >0</text>
</g>
<g id="panel-d">
<text x="0.3" y="408.6" font-size="12" text-anchor="start" font-weight="bold" fill="#000" >d</text>
<rect x="41" y="408.2" width="181" height="67.7" fill="#ddddff" stroke="none" stroke-width="0.85" />
<rect x="223" y="408.2" width="96.6" height="67.7" fill="#ffdddd" stroke="none" stroke-width="0.85" />
<rect x="220" y="408.2" width="5.2" height="67.7" fill="url(#bgL)" stroke="none" stroke-width="0.85" />
<path d="M41,436.2C41.8,436.8 44,438.9 45.5,439.7C47,440.5 48.7,442.5 49.9,440.9C51.1,439.3 51.6,433.9 52.5,430C53.4,426.1 53.9,420.7 55.2,417.8C56.5,414.9 57.9,413.5 60.4,412.5C62.9,411.5 67,411.3 70.1,411.6C73.2,411.9 76.5,412.7 78.8,414.3C81.1,415.9 82.8,417.8 84.1,421.3C85.4,424.8 85.7,431.8 86.7,435.3C87.7,438.9 89.2,441.6 90.2,442.6C91.2,443.6 91.9,442.9 92.8,441.4C93.7,439.9 94.2,435.6 95.4,433.5C96.6,431.4 97.9,429.3 99.8,428.6C101.7,427.9 105.1,428.7 106.8,429.2C108.5,429.7 108.9,430.7 110,431.5C111.1,432.3 111.8,432.1 113.5,434.2C115.2,436.2 118.6,442.9 120.5,443.8C122.4,444.7 123.4,440.6 124.9,439.4C126.4,438.1 127.1,436.9 129.3,436.3C131.5,435.7 134.8,435.7 138,435.9C141.2,436.1 145.3,436.7 148.5,437.7C151.7,438.7 155.1,441.4 157.3,442C159.5,442.6 160.2,442.6 161.7,441.2C163.1,439.8 164.7,436.2 166,433.3C167.3,430.4 168.4,425.7 169.5,423.6C170.6,421.5 171.5,420.7 172.7,420.7C173.9,420.7 175.3,421.4 176.5,423.6C177.7,425.9 178.8,431 180.1,434.2C181.4,437.4 182.9,441.4 184.4,442.9C185.9,444.4 186.9,444.1 188.8,443.4C190.7,442.7 193.8,440.6 195.8,438.5C197.9,436.4 199.6,432.1 201.1,430.6C202.6,429.1 203.4,429.1 204.6,429.4C205.8,429.7 206.3,430.7 208.1,432.4C209.8,434.1 213.2,438.1 215.1,439.4C217,440.7 218.5,440.5 219.5,440C220.5,439.5 220.5,437.6 221,436.5C221.5,435.4 221.9,433.6 222.4,433.3C222.9,433.1 223.5,434.3 224,435C224.5,435.7 224.5,436.2 225.5,437.7C226.5,439.2 227.3,442.9 229.9,444.1C232.5,445.4 236.5,445 241.3,445.2C246.1,445.4 253.6,445.2 258.8,445.5C264.1,445.8 268.9,446.8 272.8,446.9C276.7,447 280.1,446.4 282.4,445.9C284.7,445.4 285.2,443.7 286.5,443.8C287.8,443.9 287.6,445.9 290.3,446.4C293,446.9 298.5,446.9 302.6,446.9C306.7,446.9 312,446.6 314.8,446.4C317.6,446.2 318.8,446 319.6,445.9L319.6,456.4C317.4,456.3 310.7,455.9 306.1,455.7C301.5,455.5 295.6,454.9 292.1,455.2C288.6,455.5 287.7,457.3 285.1,457.4C282.5,457.5 279.8,455.8 276.3,455.7C272.8,455.6 268.4,456.4 264,456.9C259.6,457.4 254.7,458 250,458.7C245.3,459.4 240.1,460.6 236,461.3C231.9,462 228.4,462.3 225.5,463C222.6,463.7 220.2,464.9 218.5,465.7C216.8,466.5 216.8,467.6 215.1,467.9C213.4,468.2 210.4,468.1 208.1,467.4C205.8,466.7 203.4,465.1 201.1,463.9C198.8,462.7 196.1,460.8 194.1,460.4C192.1,460 190.6,460.1 188.8,461.3C187.1,462.5 185.3,465.8 183.6,467.4C181.8,469 180.9,470.4 178.3,470.9C175.7,471.4 170.6,471.2 167.8,470.6C165,470 163.6,468.9 161.7,467.4C159.8,465.8 158.3,462.5 156.4,461.3C154.5,460.1 152.8,459.8 150.3,460.4C147.8,461 144.4,463.6 141.5,464.8C138.6,466 135.4,467.5 132.8,467.4C130.2,467.2 127.8,464.9 125.8,463.9C123.8,462.9 122,460.4 120.5,461.3C119,462.2 117.6,467.8 116.5,469.5C115.4,471.2 115.1,471.1 113.8,471.4C112.5,471.7 110.6,471.8 108.6,471.2C106.6,470.6 103.8,469.2 101.6,467.7C99.4,466.2 97.3,463.6 95.4,462.4C93.5,461.2 91.8,460.7 90.2,460.7C88.6,460.7 87.1,461.4 85.8,462.4C84.5,463.4 83.8,465.2 82.3,466.8C80.8,468.4 79.1,470.9 77.1,472.1C75.1,473.3 72.1,473.9 70.1,474.2C68,474.5 66.8,474.3 64.8,473.8C62.8,473.3 59.8,472.4 57.8,471.2C55.8,470 54.2,468.1 52.5,466.8C50.8,465.5 49.2,464.3 47.3,463.3C45.4,462.3 42,461.1 41,460.7Z" fill="#bebebe"/>
<polyline points="41.6,449 42.3,452.6 43,448.7 43.4,454.5 43.9,446.9 44.4,456.2 45,450.4 45.8,453 46.5,450 47.4,454.2 48,450.6 48.6,453.6 49.5,450.9 50.1,452.5 50.6,447.6 51.2,455.6 51.7,443.1 52.4,455.4 53.2,445 53.8,458.9 54.6,445.7 54.6,441 55.4,463.5 55.4,462.7 56.3,447.5 56.9,457.7 57.6,448 58.1,440 58.5,461.6 58.9,463 59.3,447.3 59.9,457.8 60.7,444 61.4,466.6 62.3,447.7 63,463.1 63,421.3 63.8,470.3 63.8,444.7 64.5,457.2 65,443 65.6,455.7 66.1,440.4 66.8,463.8 67.3,436 67.8,456.5 68.5,438.8 69.3,469.8 70.1,444.6 70.2,436.2 70.9,467.1 70.9,462 71.7,443 72.5,460.1 73.2,436.7 74,455.4 74.8,440.8 75,415.1 75.4,459.3 75.6,468.6 76.1,442.8 76.6,457.2 77.4,438.4 77.9,458.7 78,429.2 78.6,468 78.8,444.8 79.3,457.9 80.1,445.7 80.8,464 81.4,445.9 82.3,456.7 82.8,448.4 83.3,454 83.9,448.4 84.4,457.9 85.1,446.8 85.6,457.1 86.1,448.4 86.7,452.7 87.4,451.1 87.9,453.7 88.4,449 89.1,453 90,449.4 90.8,452.8 91.4,448.2 92.2,454.6 93,450.5 93.8,452.3 94.6,448.4 95.4,452.9 96.1,449.3 96.7,441 96.8,458.4 97.3,447.2 97.3,462 98,454 98.6,444.4 99.4,458.3 100.2,447.9 100.6,458.3 100.7,434.4 101.2,447.7 101.3,462.4 101.7,458.7 102.6,445.7 103.3,456.1 103.9,448.1 104.2,438 104.4,456.3 104.8,460.5 105,447.6 105.7,461.2 106.2,445.3 106.8,454.6 107.5,447 108.2,457.3 109.1,448 109.6,462.7 110.2,438.2 111,454.2 111.8,441.5 112.2,437.6 112.6,458.9 112.9,469.2 113.4,447 113.5,438.8 114.1,454.1 114.1,468.6 114.6,448.2 115.3,454.1 115.7,440 115.8,443.4 116.3,461.9 116.3,466 117.1,448 117.8,457.8 118.3,445.5 118.9,453.7 119.7,449.2 120.4,454.4 121.2,450.4 122,453.6 122.9,448.7 123.5,454.2 124.1,450.1 124.9,453.3 125.6,448.6 126.2,455.7 127,445.2 127.6,458.8 127.7,442 128.1,449.7 128.3,459.5 128.8,454.3 129.5,446 130.2,452.8 131.1,448.3 131.8,460.4 132.5,447.9 133.2,454.9 133.2,443 133.8,445.8 133.9,465.7 134.4,453.6 134.9,444 135.5,454.1 136.1,443.9 137,454.1 137.5,447.5 138.2,454.9 138.9,448.1 139.7,454 140.6,450.2 141.4,454.5 142,449.1 142.8,455.2 143.7,446.8 144.3,454.5 145,449.5 145.7,453.1 146.2,441.5 146.3,448.2 146.8,455.3 146.8,460 147.6,450.3 148.2,454.8 148.8,447.8 149.4,453.7 149.9,448.9 150.5,453 151,450.4 151.8,452.7 152.4,450.5 153.1,454.5 154,447.6 154.6,454.1 155.2,449.3 155.8,453.8 156.6,447 157.4,453.1 157.8,448.9 158.6,452.3 159.3,450.5 160.1,453.4 160.6,450 161.4,455.4 162.1,447.7 162.8,457.7 163.6,446.6 164.4,456.2 165.3,445.8 166,458.3 166.7,443.7 167.4,455.3 167.9,447.8 168.3,435.9 168.4,460.5 169,468.3 169.2,445.9 169.8,455.2 170.4,447.1 170.9,458.5 171.2,440 171.6,447.6 171.8,466 172.3,464.6 172.9,437.1 173.5,458 174.4,442.3 174.8,423.6 175.2,457.7 175.4,466.5 175.8,446.4 176.4,458.7 177,445.2 177.2,438 177.8,455.6 177.8,462 178.3,447.4 179,462.1 179.8,446.3 180.3,461 181,446.6 181.6,454 182.3,449 182.9,455.5 183.7,450.3 184.3,452.8 184.7,447.6 185.3,452.7 185.9,449.4 186.4,453.7 187.3,448.5 187.8,453.1 188.5,450.6 189.3,453.2 189.8,449.6 190.4,454 191.2,449.5 191.7,454.4 192.6,449.3 193.2,455.2 193.7,449.3 194.4,454.3 195.2,448.4 196,453.3 196.8,449.7 197.3,453.7 198,449.4 198.2,445 198.7,455.2 198.8,458.5 199.2,447.9 199.8,455 200.6,448.8 201.4,453.9 202.3,448.2 202.8,456.5 203.3,433.3 203.5,448.3 204,460 204.3,456.4 204.8,448.3 205.3,453.4 206,443.4 206.9,457 207.6,446.6 207.8,441 208.2,457 208.4,465.7 209.1,447.2 209.7,455.2 210.6,449.5 211.4,454.6 212,448.6 212.2,443 212.6,453.4 212.8,464 213.4,447.8 214,459.6 214.7,448 215.5,455.2 216,450.2 216.4,453.9 217,445.5 217.7,454.3 218.1,449 219,453.8 219.6,446.2 220.2,455.3 221,447.9 221.9,456.6 222.1,435 222.5,445.6 222.8,461.3 223.2,455.8 223.7,449.4 224.3,455.1 225.1,447.5 225.9,458.1 227,446.3 228,453.8 229.2,448.6 230.1,454 230.8,449.4 231.7,446 231.8,455.7 232.3,459.5 232.9,447.4 234,454.1 234.8,449.1 236,454.5 237,450.1 238,453.7 239,449.2 239.8,455.1 240.6,448.1 241.7,453 242.9,448.5 244.1,453.8 244.9,450 246.2,454.7 247.1,448.9 248,453.7 249.2,447.8 250.1,454.5 251.2,448.9 252.1,456.8 253.1,447.3 253.9,454 254.7,447.2 256,456.2 256.8,447.3 257.6,455.7 258.4,448.7 259.6,456.1 260.5,447.7 261.5,453.5 262.3,451.1 263.4,452.5 264.5,451.2 265.4,452.1 266.3,451.2 267.3,453 268.6,451.1 269.8,452.3 270.8,451.1 271.6,451.8 272.7,450.9 273.5,452.3 274.2,450.9 275,451.6 275.8,451.2 276.7,452.1 277.9,451.1 279,451.9 280.2,450.5 281,452.3 281.8,449.2 282.5,453.1 283.6,450.1 284.9,453.5 286,448.9 286.8,453.6 287.7,448.6 288.6,453.6 289.3,449.1 290.5,453.2 291.2,448.8 292.3,454.3 293.5,448.4 294.6,453.9 295.5,449 296.6,454 297.5,449.9 298.3,453.1 299.4,449.7 300.4,453.2 301.6,449.4 302.9,454.2 303.7,449.5 304.7,453.5 305.5,449.6 306.4,453.5 307.3,450.4 308.1,454 309,449.8 309.9,453.6 311.1,449.2 311.9,453.1 312.9,449.7 313.9,454.5 315.1,448.1 316.4,454.2 317.1,449.7 318.2,453.6 318.3,440.3 319,449.5 319.1,455" fill="none" stroke="#000000" stroke-width="1.0" stroke-linejoin="round" stroke-linecap="round" stroke-linejoin="miter"/>
<rect x="41" y="408.2" width="278.6" height="67.7" fill="none" stroke="#858585" stroke-width="0.85" />
<line x1="35.1" y1="427.5" x2="41" y2="427.5" stroke="#707070" stroke-width="0.85"/>
<text x="28.4" y="431.2" font-size="10.4" text-anchor="end" font-weight="normal" fill="#0a0a0a" >4</text>
<line x1="35.1" y1="451.5" x2="41" y2="451.5" stroke="#707070" stroke-width="0.85"/>
<text x="28.4" y="455.2" font-size="10.4" text-anchor="end" font-weight="normal" fill="#0a0a0a" >0</text>
<line x1="35.1" y1="475.5" x2="41" y2="475.5" stroke="#707070" stroke-width="0.85"/>
<text x="28.4" y="479.2" font-size="10.4" text-anchor="end" font-weight="normal" fill="#0a0a0a" >−4</text>
<text x="10.2" y="442.5" font-size="10.3" text-anchor="middle" fill="#0a0a0a" transform="rotate(-90 10.2 442.5)">δ<tspan font-size="7" dy="-3.6">13</tspan><tspan dy="3.6">C</tspan></text>
<line x1="89.4" y1="475.9" x2="89.4" y2="482" stroke="#707070" stroke-width="0.85"/>
<text x="89.4" y="494" font-size="10.4" text-anchor="middle" font-weight="normal" fill="#0a0a0a" >400</text>
<line x1="147" y1="475.9" x2="147" y2="482" stroke="#707070" stroke-width="0.85"/>
<text x="147" y="494" font-size="10.4" text-anchor="middle" font-weight="normal" fill="#0a0a0a" >300</text>
<line x1="204.5" y1="475.9" x2="204.5" y2="482" stroke="#707070" stroke-width="0.85"/>
<text x="204.5" y="494" font-size="10.4" text-anchor="middle" font-weight="normal" fill="#0a0a0a" >200</text>
<line x1="262.1" y1="475.9" x2="262.1" y2="482" stroke="#707070" stroke-width="0.85"/>
<text x="262.1" y="494" font-size="10.4" text-anchor="middle" font-weight="normal" fill="#0a0a0a" >100</text>
<line x1="319.6" y1="475.9" x2="319.6" y2="482" stroke="#707070" stroke-width="0.85"/>
<text x="319.6" y="494" font-size="10.4" text-anchor="middle" font-weight="normal" fill="#0a0a0a" >0</text>
</g>
<g id="panel-e">
<text x="339.2" y="408.3" font-size="12" text-anchor="start" font-weight="bold" fill="#000" >e</text>
<rect x="403.9" y="408.2" width="181.1" height="68.1" fill="#ddddff" stroke="none" stroke-width="0.85" />
<rect x="586" y="408.2" width="96.5" height="68.1" fill="#ffdddd" stroke="none" stroke-width="0.85" />
<rect x="582.5" y="408.2" width="5.4" height="68.1" fill="url(#bgL)" stroke="none" stroke-width="0.85" />
<path d="M410.8,462.4C411.2,460.3 411.2,458.8 412.2,454.5C413.2,450.2 413.2,449.1 414.5,446.1C415.8,443.1 415.4,443.2 416.9,443.2C418.4,443.2 418.1,443.8 420.1,446.1C422.1,448.4 422.1,448.5 424.4,451.9C426.7,455.3 426.7,456.6 428.8,458.9C430.9,461.2 430.9,459.5 432.3,460.7C433.7,461.9 432.9,462.1 434.1,463.3C435.3,464.5 435.4,465.8 436.7,465.1C438,464.4 437.8,462.7 439,460.7C440.2,458.7 439.6,458.3 441.1,457.7C442.6,457.1 442.7,457.8 444.6,458.4C446.5,459 446,460.4 448.1,460.1C450.2,459.8 450.2,459.1 452.5,457.2C454.8,455.3 454.7,454.7 456.8,452.8C458.9,450.9 458,452.4 460.3,449.9C462.6,447.4 462.5,445.1 465.5,443.4C468.5,441.7 469,442.6 471.6,443.4C474.2,444.2 473,444.4 475.1,446.4C477.2,448.4 476.5,448.7 479.5,450.8C482.5,452.9 483,453.3 486.5,454.3C490,455.3 489.4,453.8 492.7,454.6C496,455.4 495.3,456.5 498.8,457.4C502.3,458.3 502.5,457.1 505.8,458.1C509.1,459.1 508.7,460.2 511,461.3C513.3,462.4 512.4,462.3 514.5,462.2C516.6,462.1 516.3,460.8 518.9,460.9C521.5,461 521.9,461.9 524.2,462.7C526.5,463.5 526,464.3 527.7,463.9C529.4,463.5 529.3,464.6 530.7,461.3C532.1,458 531.7,456.8 532.9,451.7C534.1,446.6 533.9,445.3 535.2,442C536.5,438.7 536.4,439.4 537.7,439.4C539,439.4 538.7,439.2 539.9,442C541.1,444.8 540.9,446.2 542.2,449.9C543.5,453.6 542.7,454 544.7,455.7C546.7,457.4 547.4,457.5 549.6,456.4C551.8,455.3 551.2,454.1 553.1,451.7C555,449.3 554.7,448.6 556.6,447.3C558.5,446 558,446.4 560.1,446.9C562.2,447.4 562.6,447.6 564.5,449C566.4,450.4 565.9,449.2 567.4,452C568.9,454.8 568.6,458.4 570.3,459.5C572,460.6 571,456.5 573.8,456C576.6,455.5 577.3,456.6 580.8,457.8C584.3,459 584.3,458.9 586.9,460.4C589.5,461.9 588.5,464.3 590.4,463.4C592.3,462.5 592.3,459.3 593.9,456.9C595.5,454.5 594.6,454.3 596.5,454.3C598.4,454.3 598.6,456 600.9,456.9C603.2,457.8 603,459 605.3,457.8C607.6,456.6 607.4,454.8 609.7,452.5C612,450.2 611.7,450.1 614,449C616.3,447.9 616.1,447.5 618.4,448.2C620.7,448.9 620.2,448.9 622.8,451.7C625.4,454.5 625.2,455.4 628,458.7C630.8,462 630.7,465.1 633.3,463.9C635.9,462.7 635.6,458.8 637.7,454.3C639.8,449.8 639.6,447.8 641.2,446.9C642.8,446 642.4,446.3 643.8,450.8C645.2,455.3 644.8,458.8 646.4,463.9C648,469 647.8,468.6 649.9,470.1C652,471.6 651.5,470.7 654.3,469.7C657.1,468.7 657.8,467.4 660.4,466.5C663,465.6 662.1,465.6 664,466.2C665.9,466.8 665.6,468.4 667.5,468.7C669.4,469 669.4,468.1 671,467.4C672.6,466.7 672,465.7 673.6,466.2C675.2,466.7 675.5,467.7 677.1,469.2C678.7,470.7 679,471.1 679.7,471.8" fill="none" stroke="#834747" stroke-width="2.3" stroke-linejoin="round" stroke-linecap="round" />
<circle cx="410.4" cy="471.7" r="1.4" fill="rgba(255,255,255,0.75)" stroke="#0a0a0a" stroke-width="1.25"/>
<circle cx="413.2" cy="436.9" r="1.4" fill="rgba(255,255,255,0.75)" stroke="#0a0a0a" stroke-width="1.25"/>
<circle cx="416.6" cy="445.3" r="1.4" fill="rgba(255,255,255,0.75)" stroke="#0a0a0a" stroke-width="1.25"/>
<circle cx="420.9" cy="451" r="1.4" fill="rgba(255,255,255,0.75)" stroke="#0a0a0a" stroke-width="1.25"/>
<circle cx="424.4" cy="448.8" r="1.4" fill="rgba(255,255,255,0.75)" stroke="#0a0a0a" stroke-width="1.25"/>
<circle cx="427.2" cy="449.8" r="1.4" fill="rgba(255,255,255,0.75)" stroke="#0a0a0a" stroke-width="1.25"/>
<circle cx="432" cy="453.3" r="1.4" fill="rgba(255,255,255,0.75)" stroke="#0a0a0a" stroke-width="1.25"/>
<circle cx="428.5" cy="466.6" r="1.4" fill="rgba(255,255,255,0.75)" stroke="#0a0a0a" stroke-width="1.25"/>
<circle cx="430" cy="463" r="1.4" fill="rgba(255,255,255,0.75)" stroke="#0a0a0a" stroke-width="1.25"/>
<circle cx="434.2" cy="467.3" r="1.4" fill="rgba(255,255,255,0.75)" stroke="#0a0a0a" stroke-width="1.25"/>
<circle cx="436" cy="465.4" r="1.4" fill="rgba(255,255,255,0.75)" stroke="#0a0a0a" stroke-width="1.25"/>
<circle cx="437.6" cy="467" r="1.4" fill="rgba(255,255,255,0.75)" stroke="#0a0a0a" stroke-width="1.25"/>
<circle cx="438.8" cy="461.5" r="1.4" fill="rgba(255,255,255,0.75)" stroke="#0a0a0a" stroke-width="1.25"/>
<circle cx="440.5" cy="451.9" r="1.4" fill="rgba(255,255,255,0.75)" stroke="#0a0a0a" stroke-width="1.25"/>
<circle cx="444.1" cy="463" r="1.4" fill="rgba(255,255,255,0.75)" stroke="#0a0a0a" stroke-width="1.25"/>
<circle cx="447.6" cy="460" r="1.4" fill="rgba(255,255,255,0.75)" stroke="#0a0a0a" stroke-width="1.25"/>
<circle cx="452.5" cy="457.2" r="1.4" fill="rgba(255,255,255,0.75)" stroke="#0a0a0a" stroke-width="1.25"/>
<circle cx="457.9" cy="452.3" r="1.4" fill="rgba(255,255,255,0.75)" stroke="#0a0a0a" stroke-width="1.25"/>
<circle cx="461.2" cy="449.6" r="1.4" fill="rgba(255,255,255,0.75)" stroke="#0a0a0a" stroke-width="1.25"/>
<circle cx="465.7" cy="444.1" r="1.4" fill="rgba(255,255,255,0.75)" stroke="#0a0a0a" stroke-width="1.25"/>
<circle cx="472.3" cy="437.1" r="1.4" fill="rgba(255,255,255,0.75)" stroke="#0a0a0a" stroke-width="1.25"/>
<circle cx="479.7" cy="458.3" r="1.4" fill="rgba(255,255,255,0.75)" stroke="#0a0a0a" stroke-width="1.25"/>
<circle cx="487.9" cy="451.3" r="1.4" fill="rgba(255,255,255,0.75)" stroke="#0a0a0a" stroke-width="1.25"/>
<circle cx="494.6" cy="452.5" r="1.4" fill="rgba(255,255,255,0.75)" stroke="#0a0a0a" stroke-width="1.25"/>
<circle cx="499" cy="461.3" r="1.4" fill="rgba(255,255,255,0.75)" stroke="#0a0a0a" stroke-width="1.25"/>
<circle cx="503.7" cy="457.8" r="1.4" fill="rgba(255,255,255,0.75)" stroke="#0a0a0a" stroke-width="1.25"/>
<circle cx="507" cy="456.4" r="1.4" fill="rgba(255,255,255,0.75)" stroke="#0a0a0a" stroke-width="1.25"/>
<circle cx="508.9" cy="460.1" r="1.4" fill="rgba(255,255,255,0.75)" stroke="#0a0a0a" stroke-width="1.25"/>
<circle cx="511.9" cy="460.8" r="1.4" fill="rgba(255,255,255,0.75)" stroke="#0a0a0a" stroke-width="1.25"/>
<circle cx="514.4" cy="466.2" r="1.4" fill="rgba(255,255,255,0.75)" stroke="#0a0a0a" stroke-width="1.25"/>
<circle cx="517.7" cy="457.8" r="1.4" fill="rgba(255,255,255,0.75)" stroke="#0a0a0a" stroke-width="1.25"/>
<circle cx="522.6" cy="461.6" r="1.4" fill="rgba(255,255,255,0.75)" stroke="#0a0a0a" stroke-width="1.25"/>
<circle cx="526.6" cy="465" r="1.4" fill="rgba(255,255,255,0.75)" stroke="#0a0a0a" stroke-width="1.25"/>
<circle cx="529.1" cy="463.2" r="1.4" fill="rgba(255,255,255,0.75)" stroke="#0a0a0a" stroke-width="1.25"/>
<circle cx="531.7" cy="453.9" r="1.4" fill="rgba(255,255,255,0.75)" stroke="#0a0a0a" stroke-width="1.25"/>
<circle cx="535" cy="465" r="1.4" fill="rgba(255,255,255,0.75)" stroke="#0a0a0a" stroke-width="1.25"/>
<circle cx="537" cy="412.4" r="1.4" fill="rgba(255,255,255,0.75)" stroke="#0a0a0a" stroke-width="1.25"/>
<circle cx="539.1" cy="443.3" r="1.4" fill="rgba(255,255,255,0.75)" stroke="#0a0a0a" stroke-width="1.25"/>
<circle cx="542" cy="462.9" r="1.4" fill="rgba(255,255,255,0.75)" stroke="#0a0a0a" stroke-width="1.25"/>
<circle cx="544.7" cy="451.7" r="1.4" fill="rgba(255,255,255,0.75)" stroke="#0a0a0a" stroke-width="1.25"/>
<circle cx="549.2" cy="450.8" r="1.4" fill="rgba(255,255,255,0.75)" stroke="#0a0a0a" stroke-width="1.25"/>
<circle cx="557.1" cy="456.2" r="1.4" fill="rgba(255,255,255,0.75)" stroke="#0a0a0a" stroke-width="1.25"/>
<circle cx="564.6" cy="427" r="1.4" fill="rgba(255,255,255,0.75)" stroke="#0a0a0a" stroke-width="1.25"/>
<circle cx="567.1" cy="464.8" r="1.4" fill="rgba(255,255,255,0.75)" stroke="#0a0a0a" stroke-width="1.25"/>
<circle cx="570.1" cy="461.3" r="1.4" fill="rgba(255,255,255,0.75)" stroke="#0a0a0a" stroke-width="1.25"/>
<circle cx="574.8" cy="453.4" r="1.4" fill="rgba(255,255,255,0.75)" stroke="#0a0a0a" stroke-width="1.25"/>
<circle cx="579.9" cy="460.9" r="1.4" fill="rgba(255,255,255,0.75)" stroke="#0a0a0a" stroke-width="1.25"/>
<circle cx="583.4" cy="456" r="1.4" fill="rgba(255,255,255,0.75)" stroke="#0a0a0a" stroke-width="1.25"/>
<circle cx="585.1" cy="456" r="1.4" fill="rgba(255,255,255,0.75)" stroke="#0a0a0a" stroke-width="1.25"/>
<circle cx="586.2" cy="466.2" r="1.4" fill="rgba(255,255,255,0.75)" stroke="#0a0a0a" stroke-width="1.25"/>
<circle cx="587.8" cy="460.8" r="1.4" fill="rgba(255,255,255,0.75)" stroke="#0a0a0a" stroke-width="1.25"/>
<circle cx="590.4" cy="464.8" r="1.4" fill="rgba(255,255,255,0.75)" stroke="#0a0a0a" stroke-width="1.25"/>
<circle cx="593.4" cy="459.2" r="1.4" fill="rgba(255,255,255,0.75)" stroke="#0a0a0a" stroke-width="1.25"/>
<circle cx="596.9" cy="449.4" r="1.4" fill="rgba(255,255,255,0.75)" stroke="#0a0a0a" stroke-width="1.25"/>
<circle cx="600.6" cy="460.1" r="1.4" fill="rgba(255,255,255,0.75)" stroke="#0a0a0a" stroke-width="1.25"/>
<circle cx="603.9" cy="457.8" r="1.4" fill="rgba(255,255,255,0.75)" stroke="#0a0a0a" stroke-width="1.25"/>
<circle cx="607" cy="455.7" r="1.4" fill="rgba(255,255,255,0.75)" stroke="#0a0a0a" stroke-width="1.25"/>
<circle cx="606.2" cy="458.1" r="1.4" fill="rgba(255,255,255,0.75)" stroke="#0a0a0a" stroke-width="1.25"/>
<circle cx="609.3" cy="459.5" r="1.4" fill="rgba(255,255,255,0.75)" stroke="#0a0a0a" stroke-width="1.25"/>
<circle cx="613.9" cy="442.9" r="1.4" fill="rgba(255,255,255,0.75)" stroke="#0a0a0a" stroke-width="1.25"/>
<circle cx="620.9" cy="453.9" r="1.4" fill="rgba(255,255,255,0.75)" stroke="#0a0a0a" stroke-width="1.25"/>
<circle cx="626.3" cy="449.9" r="1.4" fill="rgba(255,255,255,0.75)" stroke="#0a0a0a" stroke-width="1.25"/>
<circle cx="629.3" cy="458.3" r="1.4" fill="rgba(255,255,255,0.75)" stroke="#0a0a0a" stroke-width="1.25"/>
<circle cx="631.5" cy="471.6" r="1.4" fill="rgba(255,255,255,0.75)" stroke="#0a0a0a" stroke-width="1.25"/>
<circle cx="633.3" cy="457.8" r="1.4" fill="rgba(255,255,255,0.75)" stroke="#0a0a0a" stroke-width="1.25"/>
<circle cx="637.3" cy="457.4" r="1.4" fill="rgba(255,255,255,0.75)" stroke="#0a0a0a" stroke-width="1.25"/>
<circle cx="642.6" cy="437.3" r="1.4" fill="rgba(255,255,255,0.75)" stroke="#0a0a0a" stroke-width="1.25"/>
<circle cx="645.6" cy="464.1" r="1.4" fill="rgba(255,255,255,0.75)" stroke="#0a0a0a" stroke-width="1.25"/>
<circle cx="647.3" cy="469.2" r="1.4" fill="rgba(255,255,255,0.75)" stroke="#0a0a0a" stroke-width="1.25"/>
<circle cx="649.1" cy="467.9" r="1.4" fill="rgba(255,255,255,0.75)" stroke="#0a0a0a" stroke-width="1.25"/>
<circle cx="652" cy="468.8" r="1.4" fill="rgba(255,255,255,0.75)" stroke="#0a0a0a" stroke-width="1.25"/>
<circle cx="656.4" cy="470.9" r="1.4" fill="rgba(255,255,255,0.75)" stroke="#0a0a0a" stroke-width="1.25"/>
<circle cx="659.6" cy="467.4" r="1.4" fill="rgba(255,255,255,0.75)" stroke="#0a0a0a" stroke-width="1.25"/>
<circle cx="661.5" cy="462.2" r="1.4" fill="rgba(255,255,255,0.75)" stroke="#0a0a0a" stroke-width="1.25"/>
<circle cx="664.3" cy="471.3" r="1.4" fill="rgba(255,255,255,0.75)" stroke="#0a0a0a" stroke-width="1.25"/>
<circle cx="667.5" cy="465.3" r="1.4" fill="rgba(255,255,255,0.75)" stroke="#0a0a0a" stroke-width="1.25"/>
<circle cx="669.7" cy="473.9" r="1.4" fill="rgba(255,255,255,0.75)" stroke="#0a0a0a" stroke-width="1.25"/>
<circle cx="671.8" cy="460.9" r="1.4" fill="rgba(255,255,255,0.75)" stroke="#0a0a0a" stroke-width="1.25"/>
<circle cx="673.6" cy="468.3" r="1.4" fill="rgba(255,255,255,0.75)" stroke="#0a0a0a" stroke-width="1.25"/>
<circle cx="675.3" cy="468.7" r="1.4" fill="rgba(255,255,255,0.75)" stroke="#0a0a0a" stroke-width="1.25"/>
<circle cx="677.1" cy="470.4" r="1.4" fill="rgba(255,255,255,0.75)" stroke="#0a0a0a" stroke-width="1.25"/>
<circle cx="678.5" cy="472.7" r="1.4" fill="rgba(255,255,255,0.75)" stroke="#0a0a0a" stroke-width="1.25"/>
<circle cx="679.7" cy="470.1" r="1.4" fill="rgba(255,255,255,0.75)" stroke="#0a0a0a" stroke-width="1.25"/>
<rect x="403.9" y="408.2" width="278.6" height="68.1" fill="none" stroke="#858585" stroke-width="0.85" />
<line x1="397.8" y1="472.4" x2="403.9" y2="472.4" stroke="#8c8c8c" stroke-width="0.85"/>
<text x="391.8" y="476.1" font-size="10.4" text-anchor="end" font-weight="normal" fill="#0a0a0a" >0</text>
<line x1="397.8" y1="452.6" x2="403.9" y2="452.6" stroke="#8c8c8c" stroke-width="0.85"/>
<text x="391.8" y="456.3" font-size="10.4" text-anchor="end" font-weight="normal" fill="#0a0a0a" >0.25</text>
<line x1="397.8" y1="432.9" x2="403.9" y2="432.9" stroke="#8c8c8c" stroke-width="0.85"/>
<text x="391.8" y="436.6" font-size="10.4" text-anchor="end" font-weight="normal" fill="#0a0a0a" >0.5</text>
<line x1="397.8" y1="413.1" x2="403.9" y2="413.1" stroke="#8c8c8c" stroke-width="0.85"/>
<text x="391.8" y="416.8" font-size="10.4" text-anchor="end" font-weight="normal" fill="#0a0a0a" >0.75</text>
<text x="348.9" y="444.2" font-size="10.3" text-anchor="middle" font-weight="normal" fill="#0a0a0a" transform="rotate(-90 348.9 444.2)" >Extinction</text>
<text x="361.9" y="444.2" font-size="10.3" text-anchor="middle" font-weight="normal" fill="#0a0a0a" transform="rotate(-90 361.9 444.2)" >proportion</text>
<line x1="452.9" y1="476.3" x2="452.9" y2="482.2" stroke="#707070" stroke-width="0.85"/>
<text x="452.9" y="494" font-size="10.4" text-anchor="middle" font-weight="normal" fill="#0a0a0a" >400</text>
<line x1="510.3" y1="476.3" x2="510.3" y2="482.2" stroke="#707070" stroke-width="0.85"/>
<text x="510.3" y="494" font-size="10.4" text-anchor="middle" font-weight="normal" fill="#0a0a0a" >300</text>
<line x1="567.8" y1="476.3" x2="567.8" y2="482.2" stroke="#707070" stroke-width="0.85"/>
<text x="567.8" y="494" font-size="10.4" text-anchor="middle" font-weight="normal" fill="#0a0a0a" >200</text>
<line x1="625.2" y1="476.3" x2="625.2" y2="482.2" stroke="#707070" stroke-width="0.85"/>
<text x="625.2" y="494" font-size="10.4" text-anchor="middle" font-weight="normal" fill="#0a0a0a" >100</text>
<line x1="682.6" y1="476.3" x2="682.6" y2="482.2" stroke="#707070" stroke-width="0.85"/>
<text x="682" y="494" font-size="10.4" text-anchor="middle" font-weight="normal" fill="#0a0a0a" >0</text>
</g>
<g id="panel-f">
<text x="0.8" y="526" font-size="12" text-anchor="start" font-weight="bold" fill="#000" >f</text>
<rect x="41.2" y="532.1" width="180.8" height="67.1" fill="#ddddff" stroke="none" stroke-width="0.85" />
<rect x="223" y="532.1" width="96.7" height="67.1" fill="#ffdddd" stroke="none" stroke-width="0.85" />
<rect x="220" y="532.1" width="5.2" height="67.1" fill="url(#bgL)" stroke="none" stroke-width="0.85" />
<line x1="45.1" y1="596" x2="45.1" y2="599" stroke="#0f4c78" stroke-width="1.8"/>
<line x1="79.9" y1="588.2" x2="79.9" y2="599" stroke="#0f4c78" stroke-width="1.8"/>
<line x1="92.8" y1="554.2" x2="92.8" y2="598.5" stroke="#0f4c78" stroke-width="1.8"/>
<line x1="106.4" y1="561.8" x2="106.4" y2="598.6" stroke="#0f4c78" stroke-width="1.8"/>
<line x1="114.2" y1="589.7" x2="114.2" y2="599" stroke="#0f4c78" stroke-width="1.8"/>
<line x1="117.5" y1="588" x2="117.5" y2="599" stroke="#0f4c78" stroke-width="1.8"/>
<line x1="119.8" y1="578.9" x2="119.8" y2="599" stroke="#0f4c78" stroke-width="1.8"/>
<line x1="122.8" y1="593" x2="122.8" y2="599" stroke="#0f4c78" stroke-width="1.8"/>
<line x1="127.7" y1="594.5" x2="127.7" y2="599" stroke="#0f4c78" stroke-width="1.8"/>
<line x1="131.2" y1="589.8" x2="131.2" y2="599" stroke="#0f4c78" stroke-width="1.8"/>
<line x1="163.4" y1="592.4" x2="163.4" y2="599" stroke="#0f4c78" stroke-width="1.8"/>
<line x1="175.7" y1="593.3" x2="175.7" y2="599" stroke="#0f4c78" stroke-width="1.8"/>
<line x1="199.8" y1="591.5" x2="199.8" y2="599" stroke="#0f4c78" stroke-width="1.8"/>
<line x1="214.7" y1="560.9" x2="214.7" y2="597.7" stroke="#0f4c78" stroke-width="1.8"/>
<line x1="248.2" y1="552.7" x2="248.2" y2="598.2" stroke="#0f4c78" stroke-width="1.8"/>
<line x1="266" y1="562.3" x2="266" y2="598.6" stroke="#0f4c78" stroke-width="1.8"/>
<line x1="266" y1="592.1" x2="266" y2="598.6" stroke="#0f4c78" stroke-width="1.8"/>
<line x1="286.7" y1="532.3" x2="286.7" y2="593.3" stroke="#0f4c78" stroke-width="1.8"/>
<line x1="288.4" y1="540.8" x2="288.4" y2="575" stroke="#0f4c78" stroke-width="1.8"/>
<line x1="293.6" y1="547.8" x2="293.6" y2="596.8" stroke="#0f4c78" stroke-width="1.8"/>
<line x1="293.8" y1="572.6" x2="293.8" y2="597.2" stroke="#0f4c78" stroke-width="1.8"/>
<line x1="298.1" y1="560" x2="298.1" y2="591.5" stroke="#0f4c78" stroke-width="1.8"/>
<line x1="299.2" y1="571.4" x2="299.2" y2="591.5" stroke="#0f4c78" stroke-width="1.8"/>
<line x1="301.4" y1="574" x2="301.4" y2="586" stroke="#0f4c78" stroke-width="1.8"/>
<line x1="310.2" y1="563.2" x2="310.2" y2="592.4" stroke="#0f4c78" stroke-width="1.8"/>
<line x1="319.4" y1="542.2" x2="319.4" y2="597.7" stroke="#0f4c78" stroke-width="1.8"/>
<rect x="42.9" y="597.8" width="4.4" height="1.2" fill="#8995aa" stroke="#0f4c78" stroke-width="1.0" />
<rect x="76.5" y="596.1" width="6.8" height="2.9" fill="#8995aa" stroke="#0f4c78" stroke-width="1.0" />
<rect x="89.4" y="576.7" width="6.8" height="9.9" fill="#8995aa" stroke="#0f4c78" stroke-width="1.0" />
<rect x="103.3" y="582" width="6.2" height="7.5" fill="#8995aa" stroke="#0f4c78" stroke-width="1.0" />
<rect x="111.2" y="595.3" width="6" height="3.7" fill="#8995aa" stroke="#0f4c78" stroke-width="1.0" />
<rect x="115.9" y="594.5" width="3.2" height="4.3" fill="#8995aa" stroke="#0f4c78" stroke-width="1.0" />
<rect x="117.4" y="592.4" width="4.8" height="6.2" fill="#8995aa" stroke="#0f4c78" stroke-width="1.0" />
<rect x="121.2" y="596" width="3.2" height="3" fill="#8995aa" stroke="#0f4c78" stroke-width="1.0" />
<rect x="125.9" y="597" width="3.6" height="2" fill="#8995aa" stroke="#0f4c78" stroke-width="1.0" />
<rect x="127.9" y="596" width="6.6" height="3" fill="#8995aa" stroke="#0f4c78" stroke-width="1.0" />
<rect x="160" y="596.8" width="6.8" height="2.2" fill="#8995aa" stroke="#0f4c78" stroke-width="1.0" />
<rect x="171.3" y="596" width="8.8" height="3" fill="#8995aa" stroke="#0f4c78" stroke-width="1.0" />
<rect x="196.2" y="595" width="7.2" height="4" fill="#8995aa" stroke="#0f4c78" stroke-width="1.0" />
<rect x="211" y="582.4" width="7.4" height="10" fill="#8995aa" stroke="#0f4c78" stroke-width="1.0" />
<rect x="244.5" y="582.8" width="7.4" height="12.3" fill="#8995aa" stroke="#0f4c78" stroke-width="1.0" />
<rect x="262.8" y="579.8" width="6.4" height="10.3" fill="#8995aa" stroke="#0f4c78" stroke-width="1.0" />
<rect x="262.4" y="592.1" width="7.2" height="5.1" fill="#8995aa" stroke="#0f4c78" stroke-width="1.0" />
<rect x="283.9" y="562.3" width="5.6" height="18.7" fill="#8995aa" stroke="#0f4c78" stroke-width="1.0" />
<rect x="285.3" y="555.6" width="6.2" height="6.9" fill="#8995aa" stroke="#0f4c78" stroke-width="1.0" />
<rect x="291.2" y="560.9" width="4.8" height="11.7" fill="#8995aa" stroke="#0f4c78" stroke-width="1.0" />
<rect x="291.2" y="577.5" width="5.2" height="14" fill="#8995aa" stroke="#0f4c78" stroke-width="1.0" />
<rect x="296.5" y="560" width="3.2" height="12.3" fill="#8995aa" stroke="#0f4c78" stroke-width="1.0" />
<rect x="296.6" y="571.4" width="5.2" height="14" fill="#8995aa" stroke="#0f4c78" stroke-width="1.0" />
<rect x="300" y="574" width="2.8" height="11.4" fill="#8995aa" stroke="#0f4c78" stroke-width="1.0" />
<rect x="306.5" y="580.7" width="7.4" height="7.3" fill="#8995aa" stroke="#0f4c78" stroke-width="1.0" />
<rect x="315.8" y="563.5" width="7.2" height="26.6" fill="#8995aa" stroke="#0f4c78" stroke-width="1.0" />
<ellipse cx="65.4" cy="594.6" rx="3.8" ry="1.1" fill="#8995aa" stroke="#0f4c78" stroke-width="1"/>
<ellipse cx="103.8" cy="595.7" rx="3.4" ry="1.1" fill="#8995aa" stroke="#0f4c78" stroke-width="1"/>
<ellipse cx="145.2" cy="597.2" rx="4.1" ry="1.1" fill="#8995aa" stroke="#0f4c78" stroke-width="1"/>
<rect x="41.2" y="532.1" width="278.5" height="67.1" fill="none" stroke="#858585" stroke-width="0.85" />
<rect x="41.7" y="599.2" width="23.5" height="12.3" fill="#ffffff" stroke="#8c8c8c" stroke-width="0.85" />
<text x="53.4" y="608.7" font-size="9.6" text-anchor="middle" font-weight="normal" fill="#0a0a0a" >O</text>
<rect x="65.2" y="599.2" width="14.3" height="12.3" fill="#ffffff" stroke="#8c8c8c" stroke-width="0.85" />
<text x="72.4" y="608.7" font-size="9.6" text-anchor="middle" font-weight="normal" fill="#0a0a0a" >S</text>
<rect x="79.5" y="599.2" width="34.4" height="12.3" fill="#ffffff" stroke="#8c8c8c" stroke-width="0.85" />
<text x="96.7" y="608.7" font-size="9.6" text-anchor="middle" font-weight="normal" fill="#0a0a0a" >D</text>
<rect x="113.9" y="599.2" width="34.4" height="12.3" fill="#ffffff" stroke="#8c8c8c" stroke-width="0.85" />
<text x="131.1" y="608.7" font-size="9.6" text-anchor="middle" font-weight="normal" fill="#0a0a0a" >C</text>
<rect x="148.3" y="599.2" width="26.9" height="12.3" fill="#ffffff" stroke="#8c8c8c" stroke-width="0.85" />
<text x="161.7" y="608.7" font-size="9.6" text-anchor="middle" font-weight="normal" fill="#0a0a0a" >P</text>
<rect x="175.2" y="599.2" width="29.2" height="12.3" fill="#ffffff" stroke="#8c8c8c" stroke-width="0.85" />
<text x="189.8" y="608.7" font-size="9.6" text-anchor="middle" font-weight="normal" fill="#0a0a0a" >Tr</text>
<rect x="204.4" y="599.2" width="32.1" height="12.3" fill="#ffffff" stroke="#8c8c8c" stroke-width="0.85" />
<text x="220.5" y="608.7" font-size="9.6" text-anchor="middle" font-weight="normal" fill="#0a0a0a" >J</text>
<rect x="236.5" y="599.2" width="45.3" height="12.3" fill="#ffffff" stroke="#8c8c8c" stroke-width="0.85" />
<text x="259.1" y="608.7" font-size="9.6" text-anchor="middle" font-weight="normal" fill="#0a0a0a" >K</text>
<rect x="281.8" y="599.2" width="24.6" height="12.3" fill="#ffffff" stroke="#8c8c8c" stroke-width="0.85" />
<text x="294.1" y="608.7" font-size="9.6" text-anchor="middle" font-weight="normal" fill="#0a0a0a" >Pg</text>
<rect x="306.4" y="599.2" width="13.2" height="12.3" fill="#ffffff" stroke="#8c8c8c" stroke-width="0.85" />
<text x="313" y="608.7" font-size="9.6" text-anchor="middle" font-weight="normal" fill="#0a0a0a" >N</text>
<line x1="35.3" y1="598.8" x2="41.2" y2="598.8" stroke="#707070" stroke-width="0.85"/>
<text x="28.6" y="602.5" font-size="10.4" text-anchor="end" font-weight="normal" fill="#0a0a0a" >0</text>
<line x1="35.3" y1="579.5" x2="41.2" y2="579.5" stroke="#707070" stroke-width="0.85"/>
<text x="28.6" y="583.2" font-size="10.4" text-anchor="end" font-weight="normal" fill="#0a0a0a" >4</text>
<line x1="35.3" y1="560.2" x2="41.2" y2="560.2" stroke="#707070" stroke-width="0.85"/>
<text x="28.6" y="563.9" font-size="10.4" text-anchor="end" font-weight="normal" fill="#0a0a0a" >8</text>
<line x1="35.3" y1="541" x2="41.2" y2="541" stroke="#707070" stroke-width="0.85"/>
<text x="28.6" y="544.7" font-size="10.4" text-anchor="end" font-weight="normal" fill="#0a0a0a" >12</text>
<text x="9.4" y="571.0" font-size="10.4" text-anchor="middle" fill="#0a0a0a" transform="rotate(-90 9.4 571.0)">I/Ca (µmol mol<tspan font-size="7" dy="-3.6">−1</tspan><tspan dy="3.6">)</tspan></text>
<line x1="90.4" y1="611.5" x2="90.4" y2="617.6" stroke="#707070" stroke-width="0.85"/>
<text x="90.4" y="629.6" font-size="10.4" text-anchor="middle" font-weight="normal" fill="#0a0a0a" >400</text>
<line x1="147.7" y1="611.5" x2="147.7" y2="617.6" stroke="#707070" stroke-width="0.85"/>
<text x="147.7" y="629.6" font-size="10.4" text-anchor="middle" font-weight="normal" fill="#0a0a0a" >300</text>
<line x1="205" y1="611.5" x2="205" y2="617.6" stroke="#707070" stroke-width="0.85"/>
<text x="205" y="629.6" font-size="10.4" text-anchor="middle" font-weight="normal" fill="#0a0a0a" >200</text>
<line x1="262.3" y1="611.5" x2="262.3" y2="617.6" stroke="#707070" stroke-width="0.85"/>
<text x="262.3" y="629.6" font-size="10.4" text-anchor="middle" font-weight="normal" fill="#0a0a0a" >100</text>
<line x1="319.6" y1="611.5" x2="319.6" y2="617.6" stroke="#707070" stroke-width="0.85"/>
<text x="319.6" y="629.6" font-size="10.4" text-anchor="middle" font-weight="normal" fill="#0a0a0a" >0</text>
<text x="179" y="646.9" font-size="10.2" text-anchor="middle" font-weight="normal" fill="#0a0a0a" >Time (Ma)</text>
</g>
<g id="panel-g">
<text x="338.8" y="526.2" font-size="12" text-anchor="start" font-weight="bold" fill="#000" >g</text>
<rect x="403.9" y="532" width="181.1" height="67.4" fill="#ddddff" stroke="none" stroke-width="0.85" />
<rect x="586" y="532" width="96.5" height="67.4" fill="#ffdddd" stroke="none" stroke-width="0.85" />
<rect x="582.5" y="532" width="5.4" height="67.4" fill="url(#bgL)" stroke="none" stroke-width="0.85" />
<path d="M406.2,567.7C407.6,566.9 408.8,566.9 411.6,564.7C414.4,562.5 414.3,561.8 416.6,559.4C418.9,557 418.5,555.7 420.1,555.8C421.7,555.9 421.1,555 422.5,559.8C423.9,564.6 423.9,566.3 425.5,573.7C427.1,581.1 426.9,586 428.5,587.6C430.1,589.2 430.3,583.3 431.5,579.6C432.7,575.9 431.6,575.4 432.9,573.7C434.2,572 434.7,572.7 436.4,573.3C438.1,573.9 437.8,576.8 439.4,576.1C441,575.4 440.5,576.6 442.4,570.7C444.3,564.8 444.3,561.5 446.4,553.8C448.5,546.1 448.7,545.9 450.4,541.9C452.1,537.9 451.5,538.7 452.7,538.9C453.9,539.1 453.7,538.3 455,542.5C456.3,546.7 456,547.8 457.6,554.8C459.2,561.8 459,562.9 461.1,568.8C463.2,574.7 462.5,575.8 465.5,577C468.5,578.2 468.8,575.9 472.5,573.2C476.2,570.5 475.8,568.7 479.5,566.7C483.2,564.7 482.5,565.5 486.5,565.6C490.5,565.7 491.1,565.5 494.4,567C497.7,568.5 496.2,567.9 498.8,571.4C501.4,574.9 501.4,576.8 504,580.2C506.6,583.6 506.5,585.1 508.4,584.2C510.3,583.3 509.4,582.4 511,576.7C512.6,571 512.6,568.3 514.5,562.7C516.4,557.1 515.9,558.3 518,555.6C520.1,552.9 520.1,553.6 522.4,552.7C524.7,551.8 524.5,551.3 526.8,552.1C529.1,552.9 529.1,552.1 531.2,555.6C533.3,559.1 532.8,561.3 534.7,565.3C536.6,569.3 536.3,569.8 538.2,570.5C540.1,571.2 539.8,570.5 541.7,567.9C543.6,565.3 543.1,564 545.2,560.9C547.3,557.8 546.6,557.5 549.6,556.2C552.6,554.9 553.8,554.3 556.6,556.2C559.4,558.1 558,557.8 560.1,563.5C562.2,569.2 562.4,571 564.5,577.5C566.6,584 566.1,585 568,588C569.9,591 569.7,589.3 571.5,588.9C573.3,588.5 572.4,587.5 574.6,586.6C576.8,585.7 577.6,586.9 579.9,585.4C582.2,583.9 581.5,584.5 583.4,581C585.3,577.5 585,575 586.9,572.3C588.8,569.6 588.5,571.8 590.4,570.9C592.3,570 592.3,570.4 593.9,569.1C595.5,567.8 594.9,566.3 596.5,566.2C598.1,566.1 597.7,566.5 600,568.8C602.3,571.1 603,575.4 605.3,574.9C607.6,574.4 606.7,571.7 608.8,567C610.9,562.3 610.9,561 613.2,557.4C615.5,553.8 615.4,554.5 617.5,553.4C619.6,552.3 618.9,551.2 621,553.4C623.1,555.6 623.3,557.7 625.4,561.8C627.5,565.9 627,566 628.9,568.8C630.8,571.6 630.5,573.7 632.4,572.3C634.3,570.9 633.6,567 635.9,563.5C638.2,560 638.6,560.3 641.2,559.2C643.8,558.1 643.5,558.5 645.6,559.2C647.7,559.9 647.2,562.3 649.1,561.8C651,561.3 650.5,560.4 652.6,557.4C654.7,554.4 654.8,553.8 656.9,550.4C659,547 658.7,545.1 660.4,544.6C662.1,544.1 661.4,545.8 663.1,548.6C664.8,551.4 665,552.3 666.6,555.1C668.2,557.9 667.8,559.8 669.2,559.2C670.6,558.6 670.5,556.5 671.8,553C673.1,549.5 672.7,544.3 673.9,546C675.1,547.7 675,555.7 676.2,559.2C677.4,562.7 677.4,562.2 678.5,559.2C679.6,556.2 679.4,551.8 680.2,547.8C681,543.8 681.2,545.2 681.5,544.3" fill="none" stroke="#834747" stroke-width="2.3" stroke-linejoin="round" stroke-linecap="round" />
<circle cx="406.2" cy="568.1" r="1.4" fill="rgba(255,255,255,0.75)" stroke="#0a0a0a" stroke-width="1.25"/>
<circle cx="410.6" cy="566.7" r="1.4" fill="rgba(255,255,255,0.75)" stroke="#0a0a0a" stroke-width="1.25"/>
<circle cx="413.4" cy="568.3" r="1.4" fill="rgba(255,255,255,0.75)" stroke="#0a0a0a" stroke-width="1.25"/>
<circle cx="416.8" cy="557.2" r="1.4" fill="rgba(255,255,255,0.75)" stroke="#0a0a0a" stroke-width="1.25"/>
<circle cx="420.9" cy="560" r="1.4" fill="rgba(255,255,255,0.75)" stroke="#0a0a0a" stroke-width="1.25"/>
<circle cx="424.5" cy="560.4" r="1.4" fill="rgba(255,255,255,0.75)" stroke="#0a0a0a" stroke-width="1.25"/>
<circle cx="427.3" cy="581.4" r="1.4" fill="rgba(255,255,255,0.75)" stroke="#0a0a0a" stroke-width="1.25"/>
<circle cx="430.1" cy="585.2" r="1.4" fill="rgba(255,255,255,0.75)" stroke="#0a0a0a" stroke-width="1.25"/>
<circle cx="428.5" cy="594.4" r="1.4" fill="rgba(255,255,255,0.75)" stroke="#0a0a0a" stroke-width="1.25"/>
<circle cx="431.9" cy="571.9" r="1.4" fill="rgba(255,255,255,0.75)" stroke="#0a0a0a" stroke-width="1.25"/>
<circle cx="434.1" cy="575.1" r="1.4" fill="rgba(255,255,255,0.75)" stroke="#0a0a0a" stroke-width="1.25"/>
<circle cx="436.4" cy="573.7" r="1.4" fill="rgba(255,255,255,0.75)" stroke="#0a0a0a" stroke-width="1.25"/>
<circle cx="438.8" cy="577.7" r="1.4" fill="rgba(255,255,255,0.75)" stroke="#0a0a0a" stroke-width="1.25"/>
<circle cx="440.4" cy="574.1" r="1.4" fill="rgba(255,255,255,0.75)" stroke="#0a0a0a" stroke-width="1.25"/>
<circle cx="444" cy="567.9" r="1.4" fill="rgba(255,255,255,0.75)" stroke="#0a0a0a" stroke-width="1.25"/>
<circle cx="447.6" cy="548.2" r="1.4" fill="rgba(255,255,255,0.75)" stroke="#0a0a0a" stroke-width="1.25"/>
<circle cx="452.7" cy="538.3" r="1.4" fill="rgba(255,255,255,0.75)" stroke="#0a0a0a" stroke-width="1.25"/>
<circle cx="458.1" cy="555.4" r="1.4" fill="rgba(255,255,255,0.75)" stroke="#0a0a0a" stroke-width="1.25"/>
<circle cx="461.1" cy="575.9" r="1.4" fill="rgba(255,255,255,0.75)" stroke="#0a0a0a" stroke-width="1.25"/>
<circle cx="465.7" cy="579.8" r="1.4" fill="rgba(255,255,255,0.75)" stroke="#0a0a0a" stroke-width="1.25"/>
<circle cx="472.3" cy="571.6" r="1.4" fill="rgba(255,255,255,0.75)" stroke="#0a0a0a" stroke-width="1.25"/>
<circle cx="479.7" cy="566" r="1.4" fill="rgba(255,255,255,0.75)" stroke="#0a0a0a" stroke-width="1.25"/>
<circle cx="487.7" cy="567.2" r="1.4" fill="rgba(255,255,255,0.75)" stroke="#0a0a0a" stroke-width="1.25"/>
<circle cx="494.6" cy="566.7" r="1.4" fill="rgba(255,255,255,0.75)" stroke="#0a0a0a" stroke-width="1.25"/>
<circle cx="499.1" cy="572.3" r="1.4" fill="rgba(255,255,255,0.75)" stroke="#0a0a0a" stroke-width="1.25"/>
<circle cx="503.7" cy="579.5" r="1.4" fill="rgba(255,255,255,0.75)" stroke="#0a0a0a" stroke-width="1.25"/>
<circle cx="507" cy="581.9" r="1.4" fill="rgba(255,255,255,0.75)" stroke="#0a0a0a" stroke-width="1.25"/>
<circle cx="509.3" cy="585.6" r="1.4" fill="rgba(255,255,255,0.75)" stroke="#0a0a0a" stroke-width="1.25"/>
<circle cx="511.9" cy="575.3" r="1.4" fill="rgba(255,255,255,0.75)" stroke="#0a0a0a" stroke-width="1.25"/>
<circle cx="514.2" cy="563.5" r="1.4" fill="rgba(255,255,255,0.75)" stroke="#0a0a0a" stroke-width="1.25"/>
<circle cx="517.7" cy="556.5" r="1.4" fill="rgba(255,255,255,0.75)" stroke="#0a0a0a" stroke-width="1.25"/>
<circle cx="522.6" cy="553" r="1.4" fill="rgba(255,255,255,0.75)" stroke="#0a0a0a" stroke-width="1.25"/>
<circle cx="526.8" cy="551.8" r="1.4" fill="rgba(255,255,255,0.75)" stroke="#0a0a0a" stroke-width="1.25"/>
<circle cx="528.9" cy="556.2" r="1.4" fill="rgba(255,255,255,0.75)" stroke="#0a0a0a" stroke-width="1.25"/>
<circle cx="531.9" cy="554.9" r="1.4" fill="rgba(255,255,255,0.75)" stroke="#0a0a0a" stroke-width="1.25"/>
<circle cx="534.9" cy="568.3" r="1.4" fill="rgba(255,255,255,0.75)" stroke="#0a0a0a" stroke-width="1.25"/>
<circle cx="537" cy="568.3" r="1.4" fill="rgba(255,255,255,0.75)" stroke="#0a0a0a" stroke-width="1.25"/>
<circle cx="539.1" cy="571.1" r="1.4" fill="rgba(255,255,255,0.75)" stroke="#0a0a0a" stroke-width="1.25"/>
<circle cx="542" cy="567.4" r="1.4" fill="rgba(255,255,255,0.75)" stroke="#0a0a0a" stroke-width="1.25"/>
<circle cx="544.7" cy="562.3" r="1.4" fill="rgba(255,255,255,0.75)" stroke="#0a0a0a" stroke-width="1.25"/>
<circle cx="549" cy="556" r="1.4" fill="rgba(255,255,255,0.75)" stroke="#0a0a0a" stroke-width="1.25"/>
<circle cx="557.1" cy="556" r="1.4" fill="rgba(255,255,255,0.75)" stroke="#0a0a0a" stroke-width="1.25"/>
<circle cx="564.6" cy="576.7" r="1.4" fill="rgba(255,255,255,0.75)" stroke="#0a0a0a" stroke-width="1.25"/>
<circle cx="567.1" cy="589.4" r="1.4" fill="rgba(255,255,255,0.75)" stroke="#0a0a0a" stroke-width="1.25"/>
<circle cx="570.2" cy="589.8" r="1.4" fill="rgba(255,255,255,0.75)" stroke="#0a0a0a" stroke-width="1.25"/>
<circle cx="575" cy="585.8" r="1.4" fill="rgba(255,255,255,0.75)" stroke="#0a0a0a" stroke-width="1.25"/>
<circle cx="579.9" cy="585.6" r="1.4" fill="rgba(255,255,255,0.75)" stroke="#0a0a0a" stroke-width="1.25"/>
<circle cx="583.4" cy="582.3" r="1.4" fill="rgba(255,255,255,0.75)" stroke="#0a0a0a" stroke-width="1.25"/>
<circle cx="584.8" cy="575.8" r="1.4" fill="rgba(255,255,255,0.75)" stroke="#0a0a0a" stroke-width="1.25"/>
<circle cx="586" cy="575.8" r="1.4" fill="rgba(255,255,255,0.75)" stroke="#0a0a0a" stroke-width="1.25"/>
<circle cx="587.8" cy="569.8" r="1.4" fill="rgba(255,255,255,0.75)" stroke="#0a0a0a" stroke-width="1.25"/>
<circle cx="590.4" cy="570.9" r="1.4" fill="rgba(255,255,255,0.75)" stroke="#0a0a0a" stroke-width="1.25"/>
<circle cx="593.4" cy="572.3" r="1.4" fill="rgba(255,255,255,0.75)" stroke="#0a0a0a" stroke-width="1.25"/>
<circle cx="596.9" cy="565.6" r="1.4" fill="rgba(255,255,255,0.75)" stroke="#0a0a0a" stroke-width="1.25"/>
<circle cx="600.6" cy="566.2" r="1.4" fill="rgba(255,255,255,0.75)" stroke="#0a0a0a" stroke-width="1.25"/>
<circle cx="603.9" cy="580.3" r="1.4" fill="rgba(255,255,255,0.75)" stroke="#0a0a0a" stroke-width="1.25"/>
<circle cx="607" cy="576.8" r="1.4" fill="rgba(255,255,255,0.75)" stroke="#0a0a0a" stroke-width="1.25"/>
<circle cx="609.3" cy="564.4" r="1.4" fill="rgba(255,255,255,0.75)" stroke="#0a0a0a" stroke-width="1.25"/>
<circle cx="613.9" cy="556.7" r="1.4" fill="rgba(255,255,255,0.75)" stroke="#0a0a0a" stroke-width="1.25"/>
<circle cx="620.9" cy="553.2" r="1.4" fill="rgba(255,255,255,0.75)" stroke="#0a0a0a" stroke-width="1.25"/>
<circle cx="626.3" cy="561.3" r="1.4" fill="rgba(255,255,255,0.75)" stroke="#0a0a0a" stroke-width="1.25"/>
<circle cx="629.3" cy="570.2" r="1.4" fill="rgba(255,255,255,0.75)" stroke="#0a0a0a" stroke-width="1.25"/>
<circle cx="631.5" cy="578.2" r="1.4" fill="rgba(255,255,255,0.75)" stroke="#0a0a0a" stroke-width="1.25"/>
<circle cx="633.3" cy="570.2" r="1.4" fill="rgba(255,255,255,0.75)" stroke="#0a0a0a" stroke-width="1.25"/>
<circle cx="637.3" cy="561.8" r="1.4" fill="rgba(255,255,255,0.75)" stroke="#0a0a0a" stroke-width="1.25"/>
<circle cx="642.6" cy="559.9" r="1.4" fill="rgba(255,255,255,0.75)" stroke="#0a0a0a" stroke-width="1.25"/>
<circle cx="645.6" cy="555.3" r="1.4" fill="rgba(255,255,255,0.75)" stroke="#0a0a0a" stroke-width="1.25"/>
<circle cx="647.3" cy="561.4" r="1.4" fill="rgba(255,255,255,0.75)" stroke="#0a0a0a" stroke-width="1.25"/>
<circle cx="649.4" cy="562" r="1.4" fill="rgba(255,255,255,0.75)" stroke="#0a0a0a" stroke-width="1.25"/>
<circle cx="652" cy="557.7" r="1.4" fill="rgba(255,255,255,0.75)" stroke="#0a0a0a" stroke-width="1.25"/>
<circle cx="656.4" cy="551.3" r="1.4" fill="rgba(255,255,255,0.75)" stroke="#0a0a0a" stroke-width="1.25"/>
<circle cx="659.6" cy="547.2" r="1.4" fill="rgba(255,255,255,0.75)" stroke="#0a0a0a" stroke-width="1.25"/>
<circle cx="661.5" cy="538.8" r="1.4" fill="rgba(255,255,255,0.75)" stroke="#0a0a0a" stroke-width="1.25"/>
<circle cx="664.3" cy="552.7" r="1.4" fill="rgba(255,255,255,0.75)" stroke="#0a0a0a" stroke-width="1.25"/>
<circle cx="667.5" cy="555.6" r="1.4" fill="rgba(255,255,255,0.75)" stroke="#0a0a0a" stroke-width="1.25"/>
<circle cx="669.7" cy="559.9" r="1.4" fill="rgba(255,255,255,0.75)" stroke="#0a0a0a" stroke-width="1.25"/>
<circle cx="671.8" cy="552.7" r="1.4" fill="rgba(255,255,255,0.75)" stroke="#0a0a0a" stroke-width="1.25"/>
<circle cx="673.6" cy="546.5" r="1.4" fill="rgba(255,255,255,0.75)" stroke="#0a0a0a" stroke-width="1.25"/>
<circle cx="674.8" cy="540.4" r="1.4" fill="rgba(255,255,255,0.75)" stroke="#0a0a0a" stroke-width="1.25"/>
<circle cx="676.6" cy="560.6" r="1.4" fill="rgba(255,255,255,0.75)" stroke="#0a0a0a" stroke-width="1.25"/>
<circle cx="678.5" cy="559.5" r="1.4" fill="rgba(255,255,255,0.75)" stroke="#0a0a0a" stroke-width="1.25"/>
<circle cx="679.7" cy="549.5" r="1.4" fill="rgba(255,255,255,0.75)" stroke="#0a0a0a" stroke-width="1.25"/>
<circle cx="680.6" cy="540.4" r="1.4" fill="rgba(255,255,255,0.75)" stroke="#0a0a0a" stroke-width="1.25"/>
<circle cx="681.5" cy="545.1" r="1.4" fill="rgba(255,255,255,0.75)" stroke="#0a0a0a" stroke-width="1.25"/>
<rect x="403.9" y="532" width="278.6" height="67.4" fill="none" stroke="#858585" stroke-width="0.85" />
<rect x="404.1" y="599.4" width="23.5" height="12" fill="#ffffff" stroke="#8c8c8c" stroke-width="0.85" />
<text x="415.9" y="608.6" font-size="9.6" text-anchor="middle" font-weight="normal" fill="#0a0a0a" >O</text>
<rect x="427.7" y="599.4" width="14.4" height="12" fill="#ffffff" stroke="#8c8c8c" stroke-width="0.85" />
<text x="434.8" y="608.6" font-size="9.6" text-anchor="middle" font-weight="normal" fill="#0a0a0a" >S</text>
<rect x="442" y="599.4" width="34.5" height="12" fill="#ffffff" stroke="#8c8c8c" stroke-width="0.85" />
<text x="459.2" y="608.6" font-size="9.6" text-anchor="middle" font-weight="normal" fill="#0a0a0a" >D</text>
<rect x="476.5" y="599.4" width="34.5" height="12" fill="#ffffff" stroke="#8c8c8c" stroke-width="0.85" />
<text x="493.7" y="608.6" font-size="9.6" text-anchor="middle" font-weight="normal" fill="#0a0a0a" >C</text>
<rect x="510.9" y="599.4" width="27" height="12" fill="#ffffff" stroke="#8c8c8c" stroke-width="0.85" />
<text x="524.4" y="608.6" font-size="9.6" text-anchor="middle" font-weight="normal" fill="#0a0a0a" >P</text>
<rect x="537.9" y="599.4" width="29.3" height="12" fill="#ffffff" stroke="#8c8c8c" stroke-width="0.85" />
<text x="552.5" y="608.6" font-size="9.6" text-anchor="middle" font-weight="normal" fill="#0a0a0a" >Tr</text>
<rect x="567.2" y="599.4" width="32.2" height="12" fill="#ffffff" stroke="#8c8c8c" stroke-width="0.85" />
<text x="583.3" y="608.6" font-size="9.6" text-anchor="middle" font-weight="normal" fill="#0a0a0a" >J</text>
<rect x="599.3" y="599.4" width="45.4" height="12" fill="#ffffff" stroke="#8c8c8c" stroke-width="0.85" />
<text x="622" y="608.6" font-size="9.6" text-anchor="middle" font-weight="normal" fill="#0a0a0a" >K</text>
<rect x="644.7" y="599.4" width="24.7" height="12" fill="#ffffff" stroke="#8c8c8c" stroke-width="0.85" />
<text x="657" y="608.6" font-size="9.6" text-anchor="middle" font-weight="normal" fill="#0a0a0a" >Pg</text>
<rect x="669.4" y="599.4" width="13.2" height="12" fill="#ffffff" stroke="#8c8c8c" stroke-width="0.85" />
<text x="676" y="608.6" font-size="9.6" text-anchor="middle" font-weight="normal" fill="#0a0a0a" >N</text>
<line x1="397.8" y1="592.8" x2="403.9" y2="592.8" stroke="#707070" stroke-width="0.85"/>
<text x="391" y="596.5" font-size="10.4" text-anchor="end" font-weight="normal" fill="#0a0a0a" >100</text>
<line x1="397.8" y1="562.4" x2="403.9" y2="562.4" stroke="#707070" stroke-width="0.85"/>
<text x="391" y="566.1" font-size="10.4" text-anchor="end" font-weight="normal" fill="#0a0a0a" >300</text>
<line x1="397.8" y1="532" x2="403.9" y2="532" stroke="#707070" stroke-width="0.85"/>
<text x="391" y="535.7" font-size="10.4" text-anchor="end" font-weight="normal" fill="#0a0a0a" >500</text>
<line x1="397.8" y1="577.6" x2="403.9" y2="577.6" stroke="#b5b5b5" stroke-width="0.85"/>
<line x1="397.8" y1="547.2" x2="403.9" y2="547.2" stroke="#b5b5b5" stroke-width="0.85"/>
<text x="363.8" y="566" font-size="10.5" text-anchor="middle" font-weight="normal" fill="#0a0a0a" transform="rotate(-90 363.8 566)" >Genus richness</text>
<line x1="452.9" y1="611.4" x2="452.9" y2="617.4" stroke="#707070" stroke-width="0.85"/>
<text x="452.9" y="629.4" font-size="10.4" text-anchor="middle" font-weight="normal" fill="#0a0a0a" >400</text>
<line x1="510.3" y1="611.4" x2="510.3" y2="617.4" stroke="#707070" stroke-width="0.85"/>
<text x="510.3" y="629.4" font-size="10.4" text-anchor="middle" font-weight="normal" fill="#0a0a0a" >300</text>
<line x1="567.8" y1="611.4" x2="567.8" y2="617.4" stroke="#707070" stroke-width="0.85"/>
<text x="567.8" y="629.4" font-size="10.4" text-anchor="middle" font-weight="normal" fill="#0a0a0a" >200</text>
<line x1="625.2" y1="611.4" x2="625.2" y2="617.4" stroke="#707070" stroke-width="0.85"/>
<text x="625.2" y="629.4" font-size="10.4" text-anchor="middle" font-weight="normal" fill="#0a0a0a" >100</text>
<line x1="682.6" y1="611.4" x2="682.6" y2="617.4" stroke="#707070" stroke-width="0.85"/>
<text x="682" y="629.4" font-size="10.4" text-anchor="middle" font-weight="normal" fill="#0a0a0a" >0</text>
<text x="543" y="646.9" font-size="10.2" text-anchor="middle" font-weight="normal" fill="#0a0a0a" >Time (Ma)</text>
</g>
</svg>
</body></html>
